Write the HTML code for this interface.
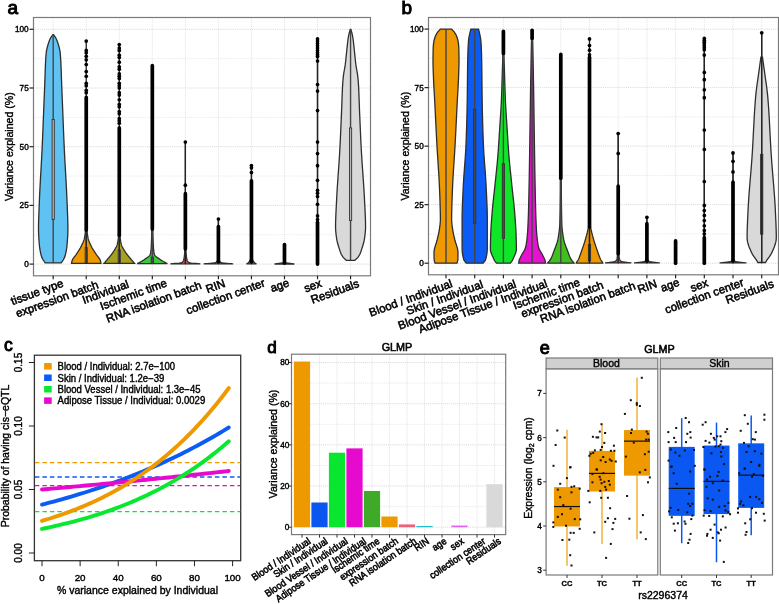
<!DOCTYPE html><html><head><meta charset="utf-8"><style>html,body{margin:0;padding:0;background:#fff;overflow:hidden}svg{display:block;will-change:transform}text{font-family:"Liberation Sans",sans-serif;fill:#000;stroke:#000;stroke-width:0.3px}.nb{stroke:none}.lab{stroke:#000;stroke-width:0.55px}.big{stroke:#000;stroke-width:1px}.m{stroke:#000;stroke-width:0.4px}</style></head><body>
<svg width="779" height="604" viewBox="0 0 779 604">
<rect width="779" height="604" fill="#fff"/>
<rect x="33.5" y="17.5" width="337" height="258.3" fill="#fff"/>
<line x1="33.5" x2="370.5" y1="234.75" y2="234.75" stroke="#e8e8e8" stroke-width="1" stroke-dasharray="1.1 1"/>
<line x1="33.5" x2="370.5" y1="176.05" y2="176.05" stroke="#e8e8e8" stroke-width="1" stroke-dasharray="1.1 1"/>
<line x1="33.5" x2="370.5" y1="117.35" y2="117.35" stroke="#e8e8e8" stroke-width="1" stroke-dasharray="1.1 1"/>
<line x1="33.5" x2="370.5" y1="58.65" y2="58.65" stroke="#e8e8e8" stroke-width="1" stroke-dasharray="1.1 1"/>
<line x1="33.5" x2="370.5" y1="264.1" y2="264.1" stroke="#d8d8d8" stroke-width="1" stroke-dasharray="1.1 1"/>
<line x1="33.5" x2="370.5" y1="205.4" y2="205.4" stroke="#d8d8d8" stroke-width="1" stroke-dasharray="1.1 1"/>
<line x1="33.5" x2="370.5" y1="146.7" y2="146.7" stroke="#d8d8d8" stroke-width="1" stroke-dasharray="1.1 1"/>
<line x1="33.5" x2="370.5" y1="88" y2="88" stroke="#d8d8d8" stroke-width="1" stroke-dasharray="1.1 1"/>
<line x1="33.5" x2="370.5" y1="29.3" y2="29.3" stroke="#d8d8d8" stroke-width="1" stroke-dasharray="1.1 1"/>
<line x1="53.2" x2="53.2" y1="17.5" y2="275.8" stroke="#e2e2e2" stroke-width="1" stroke-dasharray="1.1 1"/>
<line x1="86.24" x2="86.24" y1="17.5" y2="275.8" stroke="#e2e2e2" stroke-width="1" stroke-dasharray="1.1 1"/>
<line x1="119.28" x2="119.28" y1="17.5" y2="275.8" stroke="#e2e2e2" stroke-width="1" stroke-dasharray="1.1 1"/>
<line x1="152.32" x2="152.32" y1="17.5" y2="275.8" stroke="#e2e2e2" stroke-width="1" stroke-dasharray="1.1 1"/>
<line x1="185.36" x2="185.36" y1="17.5" y2="275.8" stroke="#e2e2e2" stroke-width="1" stroke-dasharray="1.1 1"/>
<line x1="218.4" x2="218.4" y1="17.5" y2="275.8" stroke="#e2e2e2" stroke-width="1" stroke-dasharray="1.1 1"/>
<line x1="251.44" x2="251.44" y1="17.5" y2="275.8" stroke="#e2e2e2" stroke-width="1" stroke-dasharray="1.1 1"/>
<line x1="284.48" x2="284.48" y1="17.5" y2="275.8" stroke="#e2e2e2" stroke-width="1" stroke-dasharray="1.1 1"/>
<line x1="317.52" x2="317.52" y1="17.5" y2="275.8" stroke="#e2e2e2" stroke-width="1" stroke-dasharray="1.1 1"/>
<line x1="350.56" x2="350.56" y1="17.5" y2="275.8" stroke="#e2e2e2" stroke-width="1" stroke-dasharray="1.1 1"/>
<path d="M61.2 262.93 L63.23 260.04 L64.67 257.15 L65.49 254.26 L66.14 251.37 L66.63 248.48 L66.97 245.59 L67.22 242.7 L67.45 239.81 L67.64 236.93 L67.79 234.04 L67.88 231.15 L67.9 228.26 L67.87 225.37 L67.82 222.48 L67.74 219.59 L67.64 216.7 L67.53 213.81 L67.42 210.93 L67.3 208.04 L67.19 205.15 L67.08 202.26 L66.96 199.37 L66.83 196.48 L66.7 193.59 L66.56 190.7 L66.41 187.81 L66.26 184.92 L66.1 182.04 L65.94 179.15 L65.78 176.26 L65.62 173.37 L65.45 170.48 L65.29 167.59 L65.13 164.7 L64.97 161.81 L64.81 158.92 L64.66 156.04 L64.51 153.15 L64.37 150.26 L64.23 147.37 L64.1 144.48 L63.97 141.59 L63.85 138.7 L63.73 135.81 L63.61 132.92 L63.49 130.04 L63.37 127.15 L63.26 124.26 L63.14 121.37 L63.03 118.48 L62.91 115.59 L62.8 112.7 L62.69 109.81 L62.58 106.92 L62.46 104.03 L62.35 101.15 L62.23 98.26 L62.11 95.37 L61.99 92.48 L61.87 89.59 L61.75 86.7 L61.64 83.81 L61.54 80.92 L61.44 78.03 L61.35 75.15 L61.26 72.26 L61.16 69.37 L61.04 66.48 L60.91 63.59 L60.76 60.7 L60.59 57.81 L60.38 54.92 L60.12 52.03 L59.58 49.15 L58.84 46.26 L58.02 43.37 L56.99 40.48 L55.59 37.59 L53.5 34.7 L52.9 34.7 L50.81 37.59 L49.41 40.48 L48.38 43.37 L47.56 46.26 L46.82 49.15 L46.28 52.03 L46.02 54.92 L45.81 57.81 L45.64 60.7 L45.49 63.59 L45.36 66.48 L45.24 69.37 L45.14 72.26 L45.05 75.15 L44.96 78.03 L44.86 80.92 L44.76 83.81 L44.65 86.7 L44.53 89.59 L44.41 92.48 L44.29 95.37 L44.17 98.26 L44.05 101.15 L43.94 104.03 L43.82 106.92 L43.71 109.81 L43.6 112.7 L43.49 115.59 L43.37 118.48 L43.26 121.37 L43.14 124.26 L43.03 127.15 L42.91 130.04 L42.79 132.92 L42.67 135.81 L42.55 138.7 L42.43 141.59 L42.3 144.48 L42.17 147.37 L42.03 150.26 L41.89 153.15 L41.74 156.04 L41.59 158.92 L41.43 161.81 L41.27 164.7 L41.11 167.59 L40.95 170.48 L40.78 173.37 L40.62 176.26 L40.46 179.15 L40.3 182.04 L40.14 184.92 L39.99 187.81 L39.84 190.7 L39.7 193.59 L39.57 196.48 L39.44 199.37 L39.32 202.26 L39.21 205.15 L39.1 208.04 L38.98 210.93 L38.87 213.81 L38.76 216.7 L38.66 219.59 L38.58 222.48 L38.53 225.37 L38.5 228.26 L38.52 231.15 L38.61 234.04 L38.76 236.93 L38.95 239.81 L39.18 242.7 L39.43 245.59 L39.77 248.48 L40.26 251.37 L40.91 254.26 L41.73 257.15 L43.17 260.04 L45.2 262.93Z" fill="#5fc2f3" stroke="#2e2e2e" stroke-width="1.3"/>
<line x1="53.2" x2="53.2" y1="262.93" y2="34.7" stroke="#444" stroke-width="1.4"/>
<rect x="52.1" y="119.46" width="2.2" height="100.02" fill="#b8b8b8" stroke="#333" stroke-width="0.9"/>
<path d="M100.94 263.4 L100.9 262.97 L100.83 262.55 L100.75 262.13 L100.65 261.71 L100.54 261.29 L100.42 260.86 L100.3 260.44 L100.14 260.02 L99.94 259.6 L99.71 259.18 L99.46 258.75 L99.18 258.33 L98.88 257.91 L98.57 257.49 L98.24 257.06 L97.92 256.64 L97.59 256.22 L97.26 255.8 L96.94 255.38 L96.63 254.95 L96.33 254.53 L96.06 254.11 L95.78 253.69 L95.51 253.27 L95.23 252.84 L94.95 252.42 L94.67 252 L94.39 251.58 L94.12 251.16 L93.84 250.73 L93.57 250.31 L93.3 249.89 L93.04 249.47 L92.79 249.05 L92.54 248.62 L92.3 248.2 L92.06 247.78 L91.84 247.36 L91.63 246.94 L91.42 246.51 L91.21 246.09 L91 245.67 L90.79 245.25 L90.59 244.83 L90.38 244.4 L90.18 243.98 L89.98 243.56 L89.79 243.14 L89.6 242.72 L89.41 242.29 L89.24 241.87 L89.07 241.45 L88.9 241.03 L88.75 240.61 L88.61 240.18 L88.47 239.76 L88.35 239.34 L88.23 238.92 L88.13 238.49 L88.05 238.07 L87.97 237.65 L87.89 237.23 L87.81 236.81 L87.73 236.38 L87.66 235.96 L87.58 235.54 L87.51 235.12 L87.45 234.7 L87.38 234.27 L87.32 233.85 L87.27 233.43 L87.22 233.01 L87.17 232.59 L87.13 232.16 L87.1 231.74 L87.08 231.32 L87.06 230.9 L87.04 230.48 L87.04 230.05 L85.44 230.05 L85.44 230.48 L85.42 230.9 L85.4 231.32 L85.38 231.74 L85.35 232.16 L85.31 232.59 L85.26 233.01 L85.21 233.43 L85.16 233.85 L85.1 234.27 L85.03 234.7 L84.97 235.12 L84.9 235.54 L84.82 235.96 L84.75 236.38 L84.67 236.81 L84.59 237.23 L84.51 237.65 L84.43 238.07 L84.35 238.49 L84.25 238.92 L84.13 239.34 L84.01 239.76 L83.87 240.18 L83.73 240.61 L83.58 241.03 L83.41 241.45 L83.24 241.87 L83.07 242.29 L82.88 242.72 L82.69 243.14 L82.5 243.56 L82.3 243.98 L82.1 244.4 L81.89 244.83 L81.69 245.25 L81.48 245.67 L81.27 246.09 L81.06 246.51 L80.85 246.94 L80.64 247.36 L80.42 247.78 L80.18 248.2 L79.94 248.62 L79.69 249.05 L79.44 249.47 L79.18 249.89 L78.91 250.31 L78.64 250.73 L78.36 251.16 L78.09 251.58 L77.81 252 L77.53 252.42 L77.25 252.84 L76.97 253.27 L76.7 253.69 L76.42 254.11 L76.15 254.53 L75.85 254.95 L75.54 255.38 L75.22 255.8 L74.89 256.22 L74.56 256.64 L74.24 257.06 L73.91 257.49 L73.6 257.91 L73.3 258.33 L73.02 258.75 L72.77 259.18 L72.54 259.6 L72.34 260.02 L72.18 260.44 L72.06 260.86 L71.94 261.29 L71.83 261.71 L71.73 262.13 L71.65 262.55 L71.58 262.97 L71.54 263.4Z" fill="#ee9900" stroke="#2e2e2e" stroke-width="1.3"/>
<line x1="86.24" x2="86.24" y1="264.1" y2="230.05" stroke="#444" stroke-width="1.4"/>
<rect x="85.14" y="247.66" width="2.2" height="15.26" fill="#bbb" stroke="#333" stroke-width="0.9"/>
<line x1="86.24" x2="86.24" y1="264.1" y2="41.04" stroke="#222" stroke-width="1.3"/>
<line x1="86.24" x2="86.24" y1="230.05" y2="97.39" stroke="#000" stroke-width="3.7" stroke-linecap="round"/>
<circle cx="86.24" cy="41.04" r="1.85" fill="#000"/>
<circle cx="86.24" cy="50.43" r="1.85" fill="#000"/>
<circle cx="86.24" cy="52.78" r="1.85" fill="#000"/>
<circle cx="86.24" cy="56.3" r="1.85" fill="#000"/>
<circle cx="86.24" cy="59.82" r="1.85" fill="#000"/>
<circle cx="86.24" cy="64.52" r="1.85" fill="#000"/>
<circle cx="86.24" cy="71.56" r="1.85" fill="#000"/>
<circle cx="86.24" cy="76.26" r="1.85" fill="#000"/>
<circle cx="86.24" cy="83.3" r="1.85" fill="#000"/>
<circle cx="86.24" cy="85.65" r="1.85" fill="#000"/>
<circle cx="86.24" cy="90.35" r="1.85" fill="#000"/>
<circle cx="86.24" cy="92.7" r="1.85" fill="#000"/>
<path d="M134.58 263.4 L134.27 263.04 L133.96 262.68 L133.65 262.33 L133.35 261.97 L133.04 261.61 L132.74 261.26 L132.43 260.9 L132.13 260.54 L131.83 260.19 L131.54 259.83 L131.24 259.47 L130.94 259.12 L130.64 258.76 L130.34 258.4 L130.03 258.05 L129.73 257.69 L129.42 257.33 L129.12 256.98 L128.82 256.62 L128.51 256.26 L128.22 255.91 L127.92 255.55 L127.63 255.19 L127.35 254.84 L127.07 254.48 L126.8 254.12 L126.53 253.77 L126.28 253.41 L126.03 253.05 L125.79 252.7 L125.57 252.34 L125.34 251.98 L125.12 251.63 L124.89 251.27 L124.67 250.91 L124.44 250.56 L124.22 250.2 L124 249.84 L123.78 249.49 L123.56 249.13 L123.35 248.77 L123.14 248.42 L122.94 248.06 L122.75 247.7 L122.56 247.35 L122.37 246.99 L122.2 246.63 L122.03 246.28 L121.87 245.92 L121.72 245.56 L121.59 245.21 L121.46 244.85 L121.34 244.49 L121.24 244.14 L121.15 243.78 L121.08 243.42 L121.01 243.07 L120.94 242.71 L120.87 242.35 L120.81 242 L120.74 241.64 L120.68 241.28 L120.62 240.93 L120.56 240.57 L120.51 240.21 L120.45 239.86 L120.4 239.5 L120.36 239.14 L120.31 238.79 L120.27 238.43 L120.23 238.07 L120.2 237.72 L120.17 237.36 L120.14 237 L120.12 236.65 L120.1 236.29 L120.09 235.93 L120.08 235.58 L120.08 235.22 L118.48 235.22 L118.48 235.58 L118.47 235.93 L118.46 236.29 L118.44 236.65 L118.42 237 L118.39 237.36 L118.36 237.72 L118.33 238.07 L118.29 238.43 L118.25 238.79 L118.2 239.14 L118.16 239.5 L118.11 239.86 L118.05 240.21 L118 240.57 L117.94 240.93 L117.88 241.28 L117.82 241.64 L117.75 242 L117.69 242.35 L117.62 242.71 L117.55 243.07 L117.48 243.42 L117.41 243.78 L117.32 244.14 L117.22 244.49 L117.1 244.85 L116.97 245.21 L116.84 245.56 L116.69 245.92 L116.53 246.28 L116.36 246.63 L116.19 246.99 L116 247.35 L115.81 247.7 L115.62 248.06 L115.42 248.42 L115.21 248.77 L115 249.13 L114.78 249.49 L114.56 249.84 L114.34 250.2 L114.12 250.56 L113.89 250.91 L113.67 251.27 L113.44 251.63 L113.22 251.98 L112.99 252.34 L112.77 252.7 L112.53 253.05 L112.28 253.41 L112.03 253.77 L111.76 254.12 L111.49 254.48 L111.21 254.84 L110.93 255.19 L110.64 255.55 L110.34 255.91 L110.05 256.26 L109.74 256.62 L109.44 256.98 L109.14 257.33 L108.83 257.69 L108.53 258.05 L108.22 258.4 L107.92 258.76 L107.62 259.12 L107.32 259.47 L107.02 259.83 L106.73 260.19 L106.43 260.54 L106.13 260.9 L105.82 261.26 L105.52 261.61 L105.21 261.97 L104.91 262.33 L104.6 262.68 L104.29 263.04 L103.98 263.4Z" fill="#a8a11c" stroke="#2e2e2e" stroke-width="1.3"/>
<line x1="119.28" x2="119.28" y1="264.1" y2="235.22" stroke="#444" stroke-width="1.4"/>
<rect x="118.18" y="250.01" width="2.2" height="12.91" fill="#bbb" stroke="#333" stroke-width="0.9"/>
<line x1="119.28" x2="119.28" y1="264.1" y2="44.56" stroke="#222" stroke-width="1.3"/>
<line x1="119.28" x2="119.28" y1="235.22" y2="127.92" stroke="#000" stroke-width="3.7" stroke-linecap="round"/>
<circle cx="119.28" cy="44.56" r="1.85" fill="#000"/>
<circle cx="119.28" cy="48.08" r="1.85" fill="#000"/>
<circle cx="119.28" cy="50.43" r="1.85" fill="#000"/>
<circle cx="119.28" cy="55.13" r="1.85" fill="#000"/>
<circle cx="119.28" cy="57.48" r="1.85" fill="#000"/>
<circle cx="119.28" cy="62.17" r="1.85" fill="#000"/>
<circle cx="119.28" cy="66.87" r="1.85" fill="#000"/>
<circle cx="119.28" cy="69.22" r="1.85" fill="#000"/>
<circle cx="119.28" cy="73.91" r="1.85" fill="#000"/>
<circle cx="119.28" cy="76.26" r="1.85" fill="#000"/>
<circle cx="119.28" cy="78.61" r="1.85" fill="#000"/>
<circle cx="119.28" cy="83.3" r="1.85" fill="#000"/>
<circle cx="119.28" cy="85.65" r="1.85" fill="#000"/>
<circle cx="119.28" cy="88" r="1.85" fill="#000"/>
<circle cx="119.28" cy="92.7" r="1.85" fill="#000"/>
<circle cx="119.28" cy="95.04" r="1.85" fill="#000"/>
<circle cx="119.28" cy="99.74" r="1.85" fill="#000"/>
<circle cx="119.28" cy="104.44" r="1.85" fill="#000"/>
<circle cx="119.28" cy="106.78" r="1.85" fill="#000"/>
<circle cx="119.28" cy="111.48" r="1.85" fill="#000"/>
<circle cx="119.28" cy="113.83" r="1.85" fill="#000"/>
<circle cx="119.28" cy="118.52" r="1.85" fill="#000"/>
<circle cx="119.28" cy="120.87" r="1.85" fill="#000"/>
<circle cx="119.28" cy="123.22" r="1.85" fill="#000"/>
<path d="M167.42 263.63 L166.55 263.19 L165.69 262.76 L164.86 262.32 L164.05 261.88 L163.27 261.45 L162.53 261.01 L161.81 260.57 L161.14 260.14 L160.5 259.7 L159.89 259.26 L159.25 258.82 L158.61 258.39 L157.98 257.95 L157.35 257.51 L156.76 257.08 L156.2 256.64 L155.7 256.2 L155.25 255.77 L154.87 255.33 L154.58 254.89 L154.38 254.46 L154.27 254.02 L154.18 253.58 L154.1 253.14 L154.02 252.71 L153.95 252.27 L153.88 251.83 L153.82 251.4 L153.76 250.96 L153.71 250.52 L153.66 250.09 L153.61 249.65 L153.57 249.21 L153.53 248.78 L153.5 248.34 L153.46 247.9 L153.43 247.46 L153.41 247.03 L153.38 246.59 L153.36 246.15 L153.34 245.72 L153.32 245.28 L153.3 244.84 L153.28 244.41 L153.26 243.97 L153.25 243.53 L153.23 243.1 L153.21 242.66 L153.19 242.22 L153.18 241.79 L153.16 241.35 L153.15 240.91 L153.13 240.47 L153.12 240.04 L153.1 239.6 L153.09 239.16 L153.08 238.73 L153.06 238.29 L153.05 237.85 L153.04 237.42 L153.03 236.98 L153.02 236.54 L153.01 236.11 L153 235.67 L152.99 235.23 L152.98 234.79 L152.97 234.36 L152.96 233.92 L152.95 233.48 L152.95 233.05 L152.94 232.61 L152.94 232.17 L152.93 231.74 L152.93 231.3 L152.93 230.86 L152.92 230.43 L152.92 229.99 L152.92 229.55 L152.92 229.11 L151.72 229.11 L151.72 229.55 L151.72 229.99 L151.72 230.43 L151.71 230.86 L151.71 231.3 L151.71 231.74 L151.7 232.17 L151.7 232.61 L151.69 233.05 L151.69 233.48 L151.68 233.92 L151.67 234.36 L151.66 234.79 L151.65 235.23 L151.64 235.67 L151.63 236.11 L151.62 236.54 L151.61 236.98 L151.6 237.42 L151.59 237.85 L151.58 238.29 L151.56 238.73 L151.55 239.16 L151.54 239.6 L151.52 240.04 L151.51 240.47 L151.49 240.91 L151.48 241.35 L151.46 241.79 L151.45 242.22 L151.43 242.66 L151.41 243.1 L151.39 243.53 L151.38 243.97 L151.36 244.41 L151.34 244.84 L151.32 245.28 L151.3 245.72 L151.28 246.15 L151.26 246.59 L151.23 247.03 L151.21 247.46 L151.18 247.9 L151.14 248.34 L151.11 248.78 L151.07 249.21 L151.03 249.65 L150.98 250.09 L150.93 250.52 L150.88 250.96 L150.82 251.4 L150.76 251.83 L150.69 252.27 L150.62 252.71 L150.54 253.14 L150.46 253.58 L150.37 254.02 L150.26 254.46 L150.06 254.89 L149.77 255.33 L149.39 255.77 L148.94 256.2 L148.44 256.64 L147.88 257.08 L147.29 257.51 L146.66 257.95 L146.03 258.39 L145.39 258.82 L144.75 259.26 L144.14 259.7 L143.5 260.14 L142.83 260.57 L142.11 261.01 L141.37 261.45 L140.59 261.88 L139.78 262.32 L138.95 262.76 L138.09 263.19 L137.22 263.63Z" fill="#3cc83c" stroke="#2e2e2e" stroke-width="1.3"/>
<line x1="152.32" x2="152.32" y1="264.1" y2="229.11" stroke="#444" stroke-width="1.4"/>
<rect x="151.22" y="257.06" width="2.2" height="5.87" fill="#4a4a4a" stroke="#333" stroke-width="0.9"/>
<line x1="152.32" x2="152.32" y1="229.11" y2="65.69" stroke="#000" stroke-width="3.7" stroke-linecap="round"/>
<path d="M200.36 263.87 L198.06 263.67 L195.75 263.48 L193.56 263.29 L191.68 263.1 L190.25 262.91 L189.43 262.72 L189.1 262.53 L188.81 262.34 L188.54 262.15 L188.3 261.96 L188.08 261.77 L187.88 261.58 L187.71 261.39 L187.55 261.2 L187.41 261.01 L187.29 260.82 L187.19 260.63 L187.1 260.44 L187.02 260.25 L186.96 260.06 L186.91 259.87 L186.87 259.68 L186.83 259.49 L186.8 259.3 L186.77 259.11 L186.74 258.92 L186.71 258.73 L186.68 258.54 L186.65 258.35 L186.62 258.16 L186.59 257.97 L186.56 257.78 L186.53 257.59 L186.51 257.4 L186.48 257.21 L186.46 257.02 L186.43 256.83 L186.41 256.64 L186.39 256.45 L186.37 256.26 L186.34 256.07 L186.32 255.88 L186.3 255.69 L186.28 255.5 L186.26 255.31 L186.25 255.12 L186.23 254.92 L186.21 254.73 L186.19 254.54 L186.18 254.35 L186.16 254.16 L186.15 253.97 L186.13 253.78 L186.12 253.59 L186.11 253.4 L186.1 253.21 L186.08 253.02 L186.07 252.83 L186.06 252.64 L186.05 252.45 L186.04 252.26 L186.03 252.07 L186.02 251.88 L186.02 251.69 L186.01 251.5 L186 251.31 L186 251.12 L185.99 250.93 L185.98 250.74 L185.98 250.55 L185.98 250.36 L185.97 250.17 L185.97 249.98 L185.97 249.79 L185.96 249.6 L185.96 249.41 L185.96 249.22 L185.96 249.03 L185.96 248.84 L184.76 248.84 L184.76 249.03 L184.76 249.22 L184.76 249.41 L184.76 249.6 L184.75 249.79 L184.75 249.98 L184.75 250.17 L184.74 250.36 L184.74 250.55 L184.74 250.74 L184.73 250.93 L184.72 251.12 L184.72 251.31 L184.71 251.5 L184.7 251.69 L184.7 251.88 L184.69 252.07 L184.68 252.26 L184.67 252.45 L184.66 252.64 L184.65 252.83 L184.64 253.02 L184.62 253.21 L184.61 253.4 L184.6 253.59 L184.59 253.78 L184.57 253.97 L184.56 254.16 L184.54 254.35 L184.53 254.54 L184.51 254.73 L184.49 254.92 L184.47 255.12 L184.46 255.31 L184.44 255.5 L184.42 255.69 L184.4 255.88 L184.38 256.07 L184.35 256.26 L184.33 256.45 L184.31 256.64 L184.29 256.83 L184.26 257.02 L184.24 257.21 L184.21 257.4 L184.19 257.59 L184.16 257.78 L184.13 257.97 L184.1 258.16 L184.07 258.35 L184.04 258.54 L184.01 258.73 L183.98 258.92 L183.95 259.11 L183.92 259.3 L183.89 259.49 L183.85 259.68 L183.81 259.87 L183.76 260.06 L183.7 260.25 L183.62 260.44 L183.53 260.63 L183.43 260.82 L183.31 261.01 L183.17 261.2 L183.01 261.39 L182.84 261.58 L182.64 261.77 L182.42 261.96 L182.18 262.15 L181.91 262.34 L181.62 262.53 L181.29 262.72 L180.47 262.91 L179.04 263.1 L177.16 263.29 L174.97 263.48 L172.66 263.67 L170.36 263.87Z" fill="#e05050" stroke="#2e2e2e" stroke-width="1.3"/>
<line x1="185.36" x2="185.36" y1="264.1" y2="142" stroke="#444" stroke-width="1.4"/>
<line x1="185.36" x2="185.36" y1="264.1" y2="142" stroke="#222" stroke-width="1.3"/>
<line x1="185.36" x2="185.36" y1="248.84" y2="193.66" stroke="#000" stroke-width="3.7" stroke-linecap="round"/>
<circle cx="185.36" cy="142" r="1.85" fill="#000"/>
<circle cx="185.36" cy="185.21" r="1.85" fill="#000"/>
<path d="M233.2 263.87 L232.45 263.81 L231.69 263.75 L230.93 263.7 L230.17 263.64 L229.43 263.58 L228.69 263.53 L227.96 263.47 L227.25 263.41 L226.57 263.36 L225.91 263.3 L225.27 263.24 L224.68 263.19 L224.11 263.13 L223.59 263.07 L223.11 263.02 L222.68 262.96 L222.3 262.91 L221.98 262.85 L221.71 262.79 L221.51 262.74 L221.38 262.68 L221.26 262.62 L221.16 262.57 L221.05 262.51 L220.95 262.45 L220.86 262.4 L220.77 262.34 L220.68 262.28 L220.6 262.23 L220.52 262.17 L220.44 262.11 L220.37 262.06 L220.3 262 L220.23 261.95 L220.17 261.89 L220.11 261.83 L220.05 261.78 L219.99 261.72 L219.94 261.66 L219.89 261.61 L219.84 261.55 L219.79 261.49 L219.75 261.44 L219.7 261.38 L219.66 261.32 L219.62 261.27 L219.58 261.21 L219.55 261.15 L219.51 261.1 L219.47 261.04 L219.44 260.99 L219.4 260.93 L219.37 260.87 L219.34 260.82 L219.3 260.76 L219.27 260.7 L219.24 260.65 L219.21 260.59 L219.17 260.53 L219.14 260.48 L219.11 260.42 L219.08 260.36 L219.05 260.31 L219.02 260.25 L218.99 260.19 L218.96 260.14 L218.94 260.08 L218.91 260.03 L218.89 259.97 L218.86 259.91 L218.84 259.86 L218.82 259.8 L218.8 259.74 L218.78 259.69 L218.76 259.63 L218.74 259.57 L218.73 259.52 L218.71 259.46 L218.7 259.4 L218.1 259.4 L218.09 259.46 L218.07 259.52 L218.06 259.57 L218.04 259.63 L218.02 259.69 L218 259.74 L217.98 259.8 L217.96 259.86 L217.94 259.91 L217.91 259.97 L217.89 260.03 L217.86 260.08 L217.84 260.14 L217.81 260.19 L217.78 260.25 L217.75 260.31 L217.72 260.36 L217.69 260.42 L217.66 260.48 L217.63 260.53 L217.59 260.59 L217.56 260.65 L217.53 260.7 L217.5 260.76 L217.46 260.82 L217.43 260.87 L217.4 260.93 L217.36 260.99 L217.33 261.04 L217.29 261.1 L217.25 261.15 L217.22 261.21 L217.18 261.27 L217.14 261.32 L217.1 261.38 L217.05 261.44 L217.01 261.49 L216.96 261.55 L216.91 261.61 L216.86 261.66 L216.81 261.72 L216.75 261.78 L216.69 261.83 L216.63 261.89 L216.57 261.95 L216.5 262 L216.43 262.06 L216.36 262.11 L216.28 262.17 L216.2 262.23 L216.12 262.28 L216.03 262.34 L215.94 262.4 L215.85 262.45 L215.75 262.51 L215.64 262.57 L215.54 262.62 L215.42 262.68 L215.29 262.74 L215.09 262.79 L214.82 262.85 L214.5 262.91 L214.12 262.96 L213.69 263.02 L213.21 263.07 L212.69 263.13 L212.12 263.19 L211.53 263.24 L210.89 263.3 L210.23 263.36 L209.55 263.41 L208.84 263.47 L208.11 263.53 L207.37 263.58 L206.63 263.64 L205.87 263.7 L205.11 263.75 L204.35 263.81 L203.6 263.87Z" fill="#888" stroke="#2e2e2e" stroke-width="1.3"/>
<line x1="218.4" x2="218.4" y1="264.1" y2="219.49" stroke="#444" stroke-width="1.4"/>
<line x1="218.4" x2="218.4" y1="264.1" y2="219.02" stroke="#222" stroke-width="1.3"/>
<line x1="218.4" x2="218.4" y1="261.75" y2="226.53" stroke="#000" stroke-width="3.7" stroke-linecap="round"/>
<circle cx="218.4" cy="219.02" r="1.85" fill="#000"/>
<path d="M256.44 263.87 L256.29 263.79 L256.15 263.72 L256 263.65 L255.86 263.58 L255.72 263.51 L255.58 263.44 L255.45 263.37 L255.32 263.29 L255.19 263.22 L255.07 263.15 L254.96 263.08 L254.85 263.01 L254.74 262.94 L254.65 262.87 L254.56 262.8 L254.47 262.72 L254.4 262.65 L254.33 262.58 L254.26 262.51 L254.19 262.44 L254.13 262.37 L254.06 262.3 L254 262.22 L253.94 262.15 L253.88 262.08 L253.83 262.01 L253.77 261.94 L253.72 261.87 L253.67 261.8 L253.62 261.73 L253.57 261.65 L253.52 261.58 L253.47 261.51 L253.43 261.44 L253.39 261.37 L253.34 261.3 L253.3 261.23 L253.26 261.15 L253.22 261.08 L253.18 261.01 L253.14 260.94 L253.1 260.87 L253.06 260.8 L253.02 260.73 L252.98 260.66 L252.94 260.58 L252.91 260.51 L252.87 260.44 L252.83 260.37 L252.79 260.3 L252.76 260.23 L252.72 260.16 L252.68 260.08 L252.65 260.01 L252.61 259.94 L252.58 259.87 L252.54 259.8 L252.51 259.73 L252.48 259.66 L252.45 259.59 L252.41 259.51 L252.38 259.44 L252.35 259.37 L252.32 259.3 L252.29 259.23 L252.26 259.16 L252.23 259.09 L252.2 259.01 L252.18 258.94 L252.15 258.87 L252.12 258.8 L252.1 258.73 L252.07 258.66 L252.05 258.59 L252.03 258.52 L252 258.44 L251.98 258.37 L251.96 258.3 L251.94 258.23 L250.94 258.23 L250.92 258.3 L250.9 258.37 L250.88 258.44 L250.85 258.52 L250.83 258.59 L250.81 258.66 L250.78 258.73 L250.76 258.8 L250.73 258.87 L250.7 258.94 L250.68 259.01 L250.65 259.09 L250.62 259.16 L250.59 259.23 L250.56 259.3 L250.53 259.37 L250.5 259.44 L250.47 259.51 L250.43 259.59 L250.4 259.66 L250.37 259.73 L250.34 259.8 L250.3 259.87 L250.27 259.94 L250.23 260.01 L250.2 260.08 L250.16 260.16 L250.12 260.23 L250.09 260.3 L250.05 260.37 L250.01 260.44 L249.97 260.51 L249.94 260.58 L249.9 260.66 L249.86 260.73 L249.82 260.8 L249.78 260.87 L249.74 260.94 L249.7 261.01 L249.66 261.08 L249.62 261.15 L249.58 261.23 L249.54 261.3 L249.49 261.37 L249.45 261.44 L249.41 261.51 L249.36 261.58 L249.31 261.65 L249.26 261.73 L249.21 261.8 L249.16 261.87 L249.11 261.94 L249.05 262.01 L249 262.08 L248.94 262.15 L248.88 262.22 L248.82 262.3 L248.75 262.37 L248.69 262.44 L248.62 262.51 L248.55 262.58 L248.48 262.65 L248.41 262.72 L248.32 262.8 L248.23 262.87 L248.14 262.94 L248.03 263.01 L247.92 263.08 L247.81 263.15 L247.69 263.22 L247.56 263.29 L247.43 263.37 L247.3 263.44 L247.16 263.51 L247.02 263.58 L246.88 263.65 L246.73 263.72 L246.59 263.79 L246.44 263.87Z" fill="#888" stroke="#2e2e2e" stroke-width="1.3"/>
<line x1="251.44" x2="251.44" y1="264.1" y2="165.48" stroke="#444" stroke-width="1.4"/>
<line x1="251.44" x2="251.44" y1="264.1" y2="165.48" stroke="#222" stroke-width="1.3"/>
<line x1="251.44" x2="251.44" y1="261.75" y2="180.75" stroke="#000" stroke-width="3.7" stroke-linecap="round"/>
<circle cx="251.44" cy="165.48" r="1.85" fill="#000"/>
<circle cx="251.44" cy="167.83" r="1.85" fill="#000"/>
<circle cx="251.44" cy="172.53" r="1.85" fill="#000"/>
<path d="M294.48 263.98 L294.36 263.97 L294.23 263.95 L294.11 263.93 L293.99 263.92 L293.87 263.9 L293.74 263.88 L293.62 263.87 L293.5 263.85 L293.37 263.84 L293.25 263.82 L293.13 263.8 L293.01 263.79 L292.88 263.77 L292.76 263.75 L292.64 263.74 L292.52 263.72 L292.39 263.7 L292.27 263.69 L292.15 263.67 L292.02 263.66 L291.9 263.64 L291.78 263.62 L291.66 263.61 L291.53 263.59 L291.41 263.57 L291.29 263.56 L291.16 263.54 L291.04 263.52 L290.92 263.51 L290.8 263.49 L290.67 263.48 L290.55 263.46 L290.43 263.44 L290.31 263.43 L290.18 263.41 L290.06 263.39 L289.94 263.38 L289.81 263.36 L289.69 263.35 L289.57 263.33 L289.45 263.31 L289.32 263.3 L289.2 263.28 L289.08 263.26 L288.95 263.25 L288.83 263.23 L288.71 263.21 L288.59 263.2 L288.46 263.18 L288.34 263.17 L288.22 263.15 L288.1 263.13 L287.97 263.12 L287.85 263.1 L287.73 263.08 L287.6 263.07 L287.48 263.05 L287.36 263.03 L287.24 263.02 L287.11 263 L286.99 262.99 L286.87 262.97 L286.74 262.95 L286.62 262.94 L286.5 262.92 L286.38 262.9 L286.25 262.89 L286.13 262.87 L286.01 262.85 L285.89 262.84 L285.76 262.82 L285.64 262.81 L285.52 262.79 L285.39 262.77 L285.27 262.76 L285.15 262.74 L285.03 262.72 L284.9 262.71 L284.78 262.69 L284.18 262.69 L284.06 262.71 L283.93 262.72 L283.81 262.74 L283.69 262.76 L283.57 262.77 L283.44 262.79 L283.32 262.81 L283.2 262.82 L283.07 262.84 L282.95 262.85 L282.83 262.87 L282.71 262.89 L282.58 262.9 L282.46 262.92 L282.34 262.94 L282.22 262.95 L282.09 262.97 L281.97 262.99 L281.85 263 L281.72 263.02 L281.6 263.03 L281.48 263.05 L281.36 263.07 L281.23 263.08 L281.11 263.1 L280.99 263.12 L280.86 263.13 L280.74 263.15 L280.62 263.17 L280.5 263.18 L280.37 263.2 L280.25 263.21 L280.13 263.23 L280.01 263.25 L279.88 263.26 L279.76 263.28 L279.64 263.3 L279.51 263.31 L279.39 263.33 L279.27 263.35 L279.15 263.36 L279.02 263.38 L278.9 263.39 L278.78 263.41 L278.65 263.43 L278.53 263.44 L278.41 263.46 L278.29 263.48 L278.16 263.49 L278.04 263.51 L277.92 263.52 L277.8 263.54 L277.67 263.56 L277.55 263.57 L277.43 263.59 L277.3 263.61 L277.18 263.62 L277.06 263.64 L276.94 263.66 L276.81 263.67 L276.69 263.69 L276.57 263.7 L276.44 263.72 L276.32 263.74 L276.2 263.75 L276.08 263.77 L275.95 263.79 L275.83 263.8 L275.71 263.82 L275.59 263.84 L275.46 263.85 L275.34 263.87 L275.22 263.88 L275.09 263.9 L274.97 263.92 L274.85 263.93 L274.73 263.95 L274.6 263.97 L274.48 263.98Z" fill="#888" stroke="#2e2e2e" stroke-width="1.3"/>
<line x1="284.48" x2="284.48" y1="262.93" y2="244.61" stroke="#000" stroke-width="3.7" stroke-linecap="round"/>
<line x1="317.52" x2="317.52" y1="264.1" y2="38.69" stroke="#444" stroke-width="1.4"/>
<line x1="317.52" x2="317.52" y1="264.1" y2="38.93" stroke="#222" stroke-width="1.3"/>
<line x1="317.52" x2="317.52" y1="264.1" y2="222.31" stroke="#000" stroke-width="3.7" stroke-linecap="round"/>
<circle cx="317.52" cy="38.93" r="1.85" fill="#000"/>
<circle cx="317.52" cy="41.04" r="1.85" fill="#000"/>
<circle cx="317.52" cy="43.39" r="1.85" fill="#000"/>
<circle cx="317.52" cy="45.74" r="1.85" fill="#000"/>
<circle cx="317.52" cy="48.08" r="1.85" fill="#000"/>
<circle cx="317.52" cy="50.43" r="1.85" fill="#000"/>
<circle cx="317.52" cy="52.78" r="1.85" fill="#000"/>
<circle cx="317.52" cy="54.66" r="1.85" fill="#000"/>
<circle cx="317.52" cy="56.54" r="1.85" fill="#000"/>
<circle cx="317.52" cy="61" r="1.85" fill="#000"/>
<circle cx="317.52" cy="84.48" r="1.85" fill="#000"/>
<circle cx="317.52" cy="91.05" r="1.85" fill="#000"/>
<circle cx="317.52" cy="110.54" r="1.85" fill="#000"/>
<circle cx="317.52" cy="142" r="1.85" fill="#000"/>
<circle cx="317.52" cy="153.51" r="1.85" fill="#000"/>
<circle cx="317.52" cy="165.72" r="1.85" fill="#000"/>
<circle cx="317.52" cy="180.28" r="1.85" fill="#000"/>
<circle cx="317.52" cy="190.37" r="1.85" fill="#000"/>
<circle cx="317.52" cy="193.19" r="1.85" fill="#000"/>
<circle cx="317.52" cy="196.48" r="1.85" fill="#000"/>
<circle cx="317.52" cy="204.23" r="1.85" fill="#000"/>
<circle cx="317.52" cy="215.97" r="1.85" fill="#000"/>
<circle cx="317.52" cy="219.49" r="1.85" fill="#000"/>
<path d="M354.86 260.34 L357.93 257.42 L359.78 254.49 L360.94 251.57 L361.87 248.64 L362.78 245.72 L363.63 242.8 L364.3 239.87 L364.74 236.95 L365.1 234.02 L365.39 231.1 L365.54 228.17 L365.55 225.25 L365.51 222.32 L365.43 219.4 L365.32 216.47 L365.2 213.55 L365.06 210.63 L364.91 207.7 L364.76 204.78 L364.61 201.85 L364.47 198.93 L364.32 196 L364.16 193.08 L363.98 190.15 L363.8 187.23 L363.61 184.3 L363.41 181.38 L363.2 178.45 L363 175.53 L362.79 172.61 L362.58 169.68 L362.37 166.76 L362.17 163.83 L361.97 160.91 L361.78 157.98 L361.6 155.06 L361.43 152.13 L361.27 149.21 L361.12 146.28 L360.97 143.36 L360.83 140.43 L360.69 137.51 L360.56 134.59 L360.43 131.66 L360.3 128.74 L360.17 125.81 L360.04 122.89 L359.92 119.96 L359.8 117.04 L359.67 114.11 L359.55 111.19 L359.43 108.26 L359.32 105.34 L359.22 102.41 L359.12 99.49 L359.01 96.57 L358.9 93.64 L358.78 90.72 L358.64 87.79 L358.48 84.87 L358.29 81.94 L358.04 79.02 L357.74 76.09 L357.33 73.17 L356.81 70.24 L356.29 67.32 L355.84 64.4 L355.49 61.47 L355.18 58.55 L354.88 55.62 L354.58 52.7 L354.26 49.77 L353.96 46.85 L353.66 43.92 L353.32 41 L352.92 38.07 L352.4 35.15 L351.68 32.22 L350.86 29.3 L350.26 29.3 L349.44 32.22 L348.72 35.15 L348.2 38.07 L347.8 41 L347.46 43.92 L347.16 46.85 L346.86 49.77 L346.54 52.7 L346.24 55.62 L345.94 58.55 L345.63 61.47 L345.28 64.4 L344.83 67.32 L344.31 70.24 L343.79 73.17 L343.38 76.09 L343.08 79.02 L342.83 81.94 L342.64 84.87 L342.48 87.79 L342.34 90.72 L342.22 93.64 L342.11 96.57 L342 99.49 L341.9 102.41 L341.8 105.34 L341.69 108.26 L341.57 111.19 L341.45 114.11 L341.32 117.04 L341.2 119.96 L341.08 122.89 L340.95 125.81 L340.82 128.74 L340.69 131.66 L340.56 134.59 L340.43 137.51 L340.29 140.43 L340.15 143.36 L340 146.28 L339.85 149.21 L339.69 152.13 L339.52 155.06 L339.34 157.98 L339.15 160.91 L338.95 163.83 L338.75 166.76 L338.54 169.68 L338.33 172.61 L338.12 175.53 L337.92 178.45 L337.71 181.38 L337.51 184.3 L337.32 187.23 L337.14 190.15 L336.96 193.08 L336.8 196 L336.65 198.93 L336.51 201.85 L336.36 204.78 L336.21 207.7 L336.06 210.63 L335.92 213.55 L335.8 216.47 L335.69 219.4 L335.61 222.32 L335.57 225.25 L335.58 228.17 L335.73 231.1 L336.02 234.02 L336.38 236.95 L336.82 239.87 L337.49 242.8 L338.34 245.72 L339.25 248.64 L340.18 251.57 L341.34 254.49 L343.19 257.42 L346.26 260.34Z" fill="#d9d9d9" stroke="#2e2e2e" stroke-width="1.3"/>
<line x1="350.56" x2="350.56" y1="260.34" y2="29.3" stroke="#444" stroke-width="1.4"/>
<rect x="349.46" y="127.92" width="2.2" height="92.51" fill="#b8b8b8" stroke="#333" stroke-width="0.9"/>
<rect x="33.5" y="17.5" width="337" height="258.3" fill="none" stroke="#7a7a7a" stroke-width="1.2"/>
<line x1="29.5" x2="33.5" y1="264.1" y2="264.1" stroke="#222" stroke-width="1.2"/>
<text x="28.7" y="267" font-size="8.2" text-anchor="end" class="m">0</text>
<line x1="29.5" x2="33.5" y1="205.4" y2="205.4" stroke="#222" stroke-width="1.2"/>
<text x="28.7" y="208.3" font-size="8.2" text-anchor="end" class="m">25</text>
<line x1="29.5" x2="33.5" y1="146.7" y2="146.7" stroke="#222" stroke-width="1.2"/>
<text x="28.7" y="149.6" font-size="8.2" text-anchor="end" class="m">50</text>
<line x1="29.5" x2="33.5" y1="88" y2="88" stroke="#222" stroke-width="1.2"/>
<text x="28.7" y="90.9" font-size="8.2" text-anchor="end" class="m">75</text>
<line x1="29.5" x2="33.5" y1="29.3" y2="29.3" stroke="#222" stroke-width="1.2"/>
<text x="28.7" y="32.2" font-size="8.2" text-anchor="end" class="m">100</text>
<line x1="53.2" x2="53.2" y1="275.8" y2="279.3" stroke="#222" stroke-width="1.2"/>
<line x1="86.24" x2="86.24" y1="275.8" y2="279.3" stroke="#222" stroke-width="1.2"/>
<line x1="119.28" x2="119.28" y1="275.8" y2="279.3" stroke="#222" stroke-width="1.2"/>
<line x1="152.32" x2="152.32" y1="275.8" y2="279.3" stroke="#222" stroke-width="1.2"/>
<line x1="185.36" x2="185.36" y1="275.8" y2="279.3" stroke="#222" stroke-width="1.2"/>
<line x1="218.4" x2="218.4" y1="275.8" y2="279.3" stroke="#222" stroke-width="1.2"/>
<line x1="251.44" x2="251.44" y1="275.8" y2="279.3" stroke="#222" stroke-width="1.2"/>
<line x1="284.48" x2="284.48" y1="275.8" y2="279.3" stroke="#222" stroke-width="1.2"/>
<line x1="317.52" x2="317.52" y1="275.8" y2="279.3" stroke="#222" stroke-width="1.2"/>
<line x1="350.56" x2="350.56" y1="275.8" y2="279.3" stroke="#222" stroke-width="1.2"/>
<text x="64.2" y="286.4" font-size="11.5" text-anchor="end" transform="rotate(-20 64.2 286.4)" class="lab">tissue type</text>
<text x="99.24" y="287.8" font-size="11.5" text-anchor="end" transform="rotate(-20 99.24 287.8)" class="lab">expression batch</text>
<text x="129.68" y="287.3" font-size="11.5" text-anchor="end" transform="rotate(-20 129.68 287.3)" class="lab">Individual</text>
<text x="167.82" y="286.1" font-size="11.5" text-anchor="end" transform="rotate(-20 167.82 286.1)" class="lab">Ischemic time</text>
<text x="202.16" y="288.3" font-size="11.5" text-anchor="end" transform="rotate(-20 202.16 288.3)" class="lab">RNA isolation batch</text>
<text x="226.2" y="286.4" font-size="11.5" text-anchor="end" transform="rotate(-20 226.2 286.4)" class="lab">RIN</text>
<text x="265.94" y="286" font-size="11.5" text-anchor="end" transform="rotate(-20 265.94 286)" class="lab">collection center</text>
<text x="289.98" y="285.8" font-size="11.5" text-anchor="end" transform="rotate(-20 289.98 285.8)" class="lab">age</text>
<text x="322.52" y="286.3" font-size="11.5" text-anchor="end" transform="rotate(-20 322.52 286.3)" class="lab">sex</text>
<text x="359.86" y="286.6" font-size="11.5" text-anchor="end" transform="rotate(-20 359.86 286.6)" class="lab">Residuals</text>
<text x="12.6" y="146.65" font-size="10.6" text-anchor="middle" class="m" transform="rotate(-90 12.6 146.65)">Variance explained (%)</text>
<text x="7.6" y="14.2" font-size="19" class="big">a</text>
<rect x="428.5" y="17.5" width="350" height="257.3" fill="#fff"/>
<line x1="428.5" x2="778.5" y1="233.94" y2="233.94" stroke="#e8e8e8" stroke-width="1" stroke-dasharray="1.1 1"/>
<line x1="428.5" x2="778.5" y1="175.41" y2="175.41" stroke="#e8e8e8" stroke-width="1" stroke-dasharray="1.1 1"/>
<line x1="428.5" x2="778.5" y1="116.89" y2="116.89" stroke="#e8e8e8" stroke-width="1" stroke-dasharray="1.1 1"/>
<line x1="428.5" x2="778.5" y1="58.36" y2="58.36" stroke="#e8e8e8" stroke-width="1" stroke-dasharray="1.1 1"/>
<line x1="428.5" x2="778.5" y1="263.2" y2="263.2" stroke="#d8d8d8" stroke-width="1" stroke-dasharray="1.1 1"/>
<line x1="428.5" x2="778.5" y1="204.67" y2="204.67" stroke="#d8d8d8" stroke-width="1" stroke-dasharray="1.1 1"/>
<line x1="428.5" x2="778.5" y1="146.15" y2="146.15" stroke="#d8d8d8" stroke-width="1" stroke-dasharray="1.1 1"/>
<line x1="428.5" x2="778.5" y1="87.62" y2="87.62" stroke="#d8d8d8" stroke-width="1" stroke-dasharray="1.1 1"/>
<line x1="428.5" x2="778.5" y1="29.1" y2="29.1" stroke="#d8d8d8" stroke-width="1" stroke-dasharray="1.1 1"/>
<line x1="446" x2="446" y1="17.5" y2="274.8" stroke="#e2e2e2" stroke-width="1" stroke-dasharray="1.1 1"/>
<line x1="474.7" x2="474.7" y1="17.5" y2="274.8" stroke="#e2e2e2" stroke-width="1" stroke-dasharray="1.1 1"/>
<line x1="503.4" x2="503.4" y1="17.5" y2="274.8" stroke="#e2e2e2" stroke-width="1" stroke-dasharray="1.1 1"/>
<line x1="532.1" x2="532.1" y1="17.5" y2="274.8" stroke="#e2e2e2" stroke-width="1" stroke-dasharray="1.1 1"/>
<line x1="560.8" x2="560.8" y1="17.5" y2="274.8" stroke="#e2e2e2" stroke-width="1" stroke-dasharray="1.1 1"/>
<line x1="589.5" x2="589.5" y1="17.5" y2="274.8" stroke="#e2e2e2" stroke-width="1" stroke-dasharray="1.1 1"/>
<line x1="618.2" x2="618.2" y1="17.5" y2="274.8" stroke="#e2e2e2" stroke-width="1" stroke-dasharray="1.1 1"/>
<line x1="646.9" x2="646.9" y1="17.5" y2="274.8" stroke="#e2e2e2" stroke-width="1" stroke-dasharray="1.1 1"/>
<line x1="675.6" x2="675.6" y1="17.5" y2="274.8" stroke="#e2e2e2" stroke-width="1" stroke-dasharray="1.1 1"/>
<line x1="704.3" x2="704.3" y1="17.5" y2="274.8" stroke="#e2e2e2" stroke-width="1" stroke-dasharray="1.1 1"/>
<line x1="733" x2="733" y1="17.5" y2="274.8" stroke="#e2e2e2" stroke-width="1" stroke-dasharray="1.1 1"/>
<line x1="761.7" x2="761.7" y1="17.5" y2="274.8" stroke="#e2e2e2" stroke-width="1" stroke-dasharray="1.1 1"/>
<path d="M457 263.2 L457.82 260.24 L457.94 257.27 L457.99 254.31 L457.95 251.35 L457.43 248.38 L456.55 245.42 L455.58 242.46 L454.78 239.49 L454.06 236.53 L453.37 233.57 L452.83 230.6 L452.39 227.64 L451.98 224.68 L451.69 221.71 L451.6 218.75 L451.63 215.79 L451.68 212.82 L451.76 209.86 L451.84 206.9 L451.92 203.93 L452.01 200.97 L452.11 198.01 L452.22 195.04 L452.34 192.08 L452.46 189.12 L452.59 186.15 L452.73 183.19 L452.88 180.23 L453.05 177.26 L453.22 174.3 L453.4 171.34 L453.59 168.37 L453.79 165.41 L453.98 162.45 L454.18 159.48 L454.37 156.52 L454.56 153.56 L454.75 150.59 L454.92 147.63 L455.09 144.67 L455.25 141.71 L455.41 138.74 L455.56 135.78 L455.71 132.82 L455.86 129.85 L456.01 126.89 L456.16 123.93 L456.3 120.96 L456.45 118 L456.59 115.04 L456.74 112.07 L456.88 109.11 L457.03 106.15 L457.18 103.18 L457.34 100.22 L457.5 97.26 L457.67 94.29 L457.84 91.33 L458.01 88.37 L458.17 85.4 L458.32 82.44 L458.46 79.48 L458.58 76.51 L458.69 73.55 L458.8 70.59 L458.9 67.62 L458.97 64.66 L459 61.7 L458.99 58.73 L458.96 55.77 L458.92 52.81 L458.85 49.84 L458.76 46.88 L458.48 43.92 L458.03 40.95 L457.29 37.99 L456.11 35.03 L454.37 32.06 L451.6 29.1 L440.4 29.1 L437.63 32.06 L435.89 35.03 L434.71 37.99 L433.97 40.95 L433.52 43.92 L433.24 46.88 L433.15 49.84 L433.08 52.81 L433.04 55.77 L433.01 58.73 L433 61.7 L433.03 64.66 L433.1 67.62 L433.2 70.59 L433.31 73.55 L433.42 76.51 L433.54 79.48 L433.68 82.44 L433.83 85.4 L433.99 88.37 L434.16 91.33 L434.33 94.29 L434.5 97.26 L434.66 100.22 L434.82 103.18 L434.97 106.15 L435.12 109.11 L435.26 112.07 L435.41 115.04 L435.55 118 L435.7 120.96 L435.84 123.93 L435.99 126.89 L436.14 129.85 L436.29 132.82 L436.44 135.78 L436.59 138.74 L436.75 141.71 L436.91 144.67 L437.08 147.63 L437.25 150.59 L437.44 153.56 L437.63 156.52 L437.82 159.48 L438.02 162.45 L438.21 165.41 L438.41 168.37 L438.6 171.34 L438.78 174.3 L438.95 177.26 L439.12 180.23 L439.27 183.19 L439.41 186.15 L439.54 189.12 L439.66 192.08 L439.78 195.04 L439.89 198.01 L439.99 200.97 L440.08 203.93 L440.16 206.9 L440.24 209.86 L440.32 212.82 L440.37 215.79 L440.4 218.75 L440.31 221.71 L440.02 224.68 L439.61 227.64 L439.17 230.6 L438.63 233.57 L437.94 236.53 L437.22 239.49 L436.42 242.46 L435.45 245.42 L434.57 248.38 L434.05 251.35 L434.01 254.31 L434.06 257.27 L434.18 260.24 L435 263.2Z" fill="#ee9900" stroke="#2e2e2e" stroke-width="1.3"/>
<line x1="446" x2="446" y1="263.2" y2="29.1" stroke="#444" stroke-width="1.4"/>
<path d="M483.2 263.2 L485.42 260.24 L486.22 257.27 L486.81 254.31 L487.17 251.35 L487.3 248.38 L487.3 245.42 L487.3 242.46 L487.3 239.49 L487.3 236.53 L487.3 233.57 L487.3 230.6 L487.3 227.64 L487.3 224.68 L487.3 221.71 L487.3 218.75 L487.28 215.79 L487.23 212.82 L487.16 209.86 L487.06 206.9 L486.95 203.93 L486.82 200.97 L486.68 198.01 L486.54 195.04 L486.4 192.08 L486.25 189.12 L486.11 186.15 L485.96 183.19 L485.79 180.23 L485.6 177.26 L485.4 174.3 L485.18 171.34 L484.96 168.37 L484.73 165.41 L484.51 162.45 L484.29 159.48 L484.08 156.52 L483.88 153.56 L483.7 150.59 L483.54 147.63 L483.41 144.67 L483.29 141.71 L483.18 138.74 L483.07 135.78 L482.97 132.82 L482.87 129.85 L482.78 126.89 L482.69 123.93 L482.6 120.96 L482.52 118 L482.45 115.04 L482.38 112.07 L482.32 109.11 L482.26 106.15 L482.21 103.18 L482.16 100.22 L482.12 97.26 L482.08 94.29 L482.05 91.33 L482.02 88.37 L481.99 85.4 L481.97 82.44 L481.94 79.48 L481.91 76.51 L481.88 73.55 L481.84 70.59 L481.8 67.62 L481.76 64.66 L481.71 61.7 L481.64 58.73 L481.57 55.77 L481.49 52.81 L481.38 49.84 L481.26 46.88 L481.1 43.92 L480.91 40.95 L480.55 37.99 L479.96 35.03 L479.31 32.06 L478.5 29.1 L470.9 29.1 L470.09 32.06 L469.44 35.03 L468.85 37.99 L468.49 40.95 L468.3 43.92 L468.14 46.88 L468.02 49.84 L467.91 52.81 L467.83 55.77 L467.76 58.73 L467.69 61.7 L467.64 64.66 L467.6 67.62 L467.56 70.59 L467.52 73.55 L467.49 76.51 L467.46 79.48 L467.43 82.44 L467.41 85.4 L467.38 88.37 L467.35 91.33 L467.32 94.29 L467.28 97.26 L467.24 100.22 L467.19 103.18 L467.14 106.15 L467.08 109.11 L467.02 112.07 L466.95 115.04 L466.88 118 L466.8 120.96 L466.71 123.93 L466.62 126.89 L466.53 129.85 L466.43 132.82 L466.33 135.78 L466.22 138.74 L466.11 141.71 L465.99 144.67 L465.86 147.63 L465.7 150.59 L465.52 153.56 L465.32 156.52 L465.11 159.48 L464.89 162.45 L464.67 165.41 L464.44 168.37 L464.22 171.34 L464 174.3 L463.8 177.26 L463.61 180.23 L463.44 183.19 L463.29 186.15 L463.15 189.12 L463 192.08 L462.86 195.04 L462.72 198.01 L462.58 200.97 L462.45 203.93 L462.34 206.9 L462.24 209.86 L462.17 212.82 L462.12 215.79 L462.1 218.75 L462.1 221.71 L462.1 224.68 L462.1 227.64 L462.1 230.6 L462.1 233.57 L462.1 236.53 L462.1 239.49 L462.1 242.46 L462.1 245.42 L462.1 248.38 L462.23 251.35 L462.59 254.31 L463.18 257.27 L463.98 260.24 L466.2 263.2Z" fill="#0b5cf4" stroke="#2e2e2e" stroke-width="1.3"/>
<line x1="474.7" x2="474.7" y1="263.2" y2="29.1" stroke="#444" stroke-width="1.4"/>
<rect x="473.6" y="109.16" width="2.2" height="114.24" fill="#4a4a4a" stroke="#333" stroke-width="0.9"/>
<path d="M510.4 263.2 L512.39 260.54 L513.47 257.89 L514.7 255.23 L515.83 252.58 L516.39 249.92 L516.39 247.27 L516.35 244.61 L516.29 241.96 L516.22 239.3 L516.14 236.65 L516.06 233.99 L515.95 231.34 L515.81 228.68 L515.66 226.03 L515.48 223.37 L515.29 220.72 L515.1 218.06 L514.9 215.41 L514.69 212.75 L514.47 210.1 L514.23 207.44 L513.97 204.79 L513.69 202.13 L513.41 199.48 L513.11 196.82 L512.82 194.17 L512.52 191.51 L512.23 188.86 L511.95 186.2 L511.67 183.55 L511.4 180.89 L511.12 178.24 L510.84 175.58 L510.56 172.93 L510.28 170.27 L510.01 167.62 L509.74 164.96 L509.49 162.31 L509.25 159.65 L509.03 157 L508.82 154.34 L508.62 151.69 L508.43 149.03 L508.25 146.38 L508.07 143.72 L507.9 141.06 L507.73 138.41 L507.56 135.75 L507.4 133.1 L507.23 130.44 L507.06 127.79 L506.89 125.13 L506.72 122.48 L506.54 119.82 L506.36 117.17 L506.19 114.51 L506.02 111.86 L505.86 109.2 L505.71 106.55 L505.57 103.89 L505.44 101.24 L505.33 98.58 L505.23 95.93 L505.14 93.27 L505.05 90.62 L504.96 87.96 L504.88 85.31 L504.81 82.65 L504.73 80 L504.64 77.34 L504.56 74.69 L504.48 72.03 L504.39 69.38 L504.31 66.72 L504.23 64.07 L504.14 61.41 L504.06 58.76 L503.98 56.1 L503.9 53.45 L502.9 53.45 L502.82 56.1 L502.74 58.76 L502.66 61.41 L502.57 64.07 L502.49 66.72 L502.41 69.38 L502.32 72.03 L502.24 74.69 L502.16 77.34 L502.07 80 L501.99 82.65 L501.92 85.31 L501.84 87.96 L501.75 90.62 L501.66 93.27 L501.57 95.93 L501.47 98.58 L501.36 101.24 L501.23 103.89 L501.09 106.55 L500.94 109.2 L500.78 111.86 L500.61 114.51 L500.44 117.17 L500.26 119.82 L500.08 122.48 L499.91 125.13 L499.74 127.79 L499.57 130.44 L499.4 133.1 L499.24 135.75 L499.07 138.41 L498.9 141.06 L498.73 143.72 L498.55 146.38 L498.37 149.03 L498.18 151.69 L497.98 154.34 L497.77 157 L497.55 159.65 L497.31 162.31 L497.06 164.96 L496.79 167.62 L496.52 170.27 L496.24 172.93 L495.96 175.58 L495.68 178.24 L495.4 180.89 L495.13 183.55 L494.85 186.2 L494.57 188.86 L494.28 191.51 L493.98 194.17 L493.69 196.82 L493.39 199.48 L493.11 202.13 L492.83 204.79 L492.57 207.44 L492.33 210.1 L492.11 212.75 L491.9 215.41 L491.7 218.06 L491.51 220.72 L491.32 223.37 L491.14 226.03 L490.99 228.68 L490.85 231.34 L490.74 233.99 L490.66 236.65 L490.58 239.3 L490.51 241.96 L490.45 244.61 L490.41 247.27 L490.41 249.92 L490.97 252.58 L492.1 255.23 L493.33 257.89 L494.41 260.54 L496.4 263.2Z" fill="#10e628" stroke="#2e2e2e" stroke-width="1.3"/>
<line x1="503.4" x2="503.4" y1="263.2" y2="31.44" stroke="#444" stroke-width="1.4"/>
<rect x="502.3" y="163.71" width="2.2" height="74.68" fill="#4a4a4a" stroke="#333" stroke-width="0.9"/>
<line x1="503.4" x2="503.4" y1="53.45" y2="31.44" stroke="#000" stroke-width="3.7" stroke-linecap="round"/>
<path d="M545.5 263.2 L545.13 260.38 L543.83 257.57 L542.45 254.75 L540.74 251.94 L539.18 249.12 L538.31 246.31 L537.83 243.49 L537.43 240.68 L537.1 237.86 L536.83 235.05 L536.61 232.23 L536.43 229.42 L536.29 226.6 L536.16 223.79 L536.04 220.97 L535.93 218.16 L535.83 215.34 L535.74 212.53 L535.66 209.71 L535.58 206.9 L535.51 204.08 L535.44 201.27 L535.38 198.45 L535.32 195.64 L535.26 192.82 L535.21 190.01 L535.15 187.19 L535.09 184.38 L535.03 181.56 L534.98 178.75 L534.93 175.93 L534.88 173.12 L534.83 170.3 L534.78 167.49 L534.74 164.67 L534.69 161.86 L534.65 159.04 L534.61 156.23 L534.56 153.41 L534.52 150.59 L534.48 147.78 L534.44 144.96 L534.4 142.15 L534.36 139.33 L534.32 136.52 L534.28 133.7 L534.24 130.89 L534.2 128.07 L534.15 125.26 L534.11 122.44 L534.07 119.63 L534.03 116.81 L533.99 114 L533.95 111.18 L533.91 108.37 L533.87 105.55 L533.83 102.74 L533.79 99.92 L533.75 97.11 L533.71 94.29 L533.66 91.48 L533.62 88.66 L533.57 85.85 L533.52 83.03 L533.47 80.22 L533.42 77.4 L533.37 74.59 L533.32 71.77 L533.27 68.96 L533.22 66.14 L533.16 63.33 L533.11 60.51 L533.05 57.7 L532.99 54.88 L532.94 52.07 L532.88 49.25 L532.82 46.44 L532.76 43.62 L532.7 40.8 L531.5 40.8 L531.44 43.62 L531.38 46.44 L531.32 49.25 L531.26 52.07 L531.21 54.88 L531.15 57.7 L531.09 60.51 L531.04 63.33 L530.98 66.14 L530.93 68.96 L530.88 71.77 L530.83 74.59 L530.78 77.4 L530.73 80.22 L530.68 83.03 L530.63 85.85 L530.58 88.66 L530.54 91.48 L530.49 94.29 L530.45 97.11 L530.41 99.92 L530.37 102.74 L530.33 105.55 L530.29 108.37 L530.25 111.18 L530.21 114 L530.17 116.81 L530.13 119.63 L530.09 122.44 L530.05 125.26 L530 128.07 L529.96 130.89 L529.92 133.7 L529.88 136.52 L529.84 139.33 L529.8 142.15 L529.76 144.96 L529.72 147.78 L529.68 150.59 L529.64 153.41 L529.59 156.23 L529.55 159.04 L529.51 161.86 L529.46 164.67 L529.42 167.49 L529.37 170.3 L529.32 173.12 L529.27 175.93 L529.22 178.75 L529.17 181.56 L529.11 184.38 L529.05 187.19 L528.99 190.01 L528.94 192.82 L528.88 195.64 L528.82 198.45 L528.76 201.27 L528.69 204.08 L528.62 206.9 L528.54 209.71 L528.46 212.53 L528.37 215.34 L528.27 218.16 L528.16 220.97 L528.04 223.79 L527.91 226.6 L527.77 229.42 L527.59 232.23 L527.37 235.05 L527.1 237.86 L526.77 240.68 L526.37 243.49 L525.89 246.31 L525.02 249.12 L523.46 251.94 L521.75 254.75 L520.37 257.57 L519.07 260.38 L518.7 263.2Z" fill="#e612d2" stroke="#2e2e2e" stroke-width="1.3"/>
<line x1="532.1" x2="532.1" y1="263.2" y2="30.27" stroke="#444" stroke-width="1.4"/>
<line x1="532.1" x2="532.1" y1="38.46" y2="30.27" stroke="#000" stroke-width="3.7" stroke-linecap="round"/>
<path d="M574 263.2 L573.37 262.13 L572.41 261.07 L571.5 260 L570.87 258.93 L570.32 257.87 L569.83 256.8 L569.38 255.73 L568.97 254.67 L568.57 253.6 L568.19 252.53 L567.79 251.47 L567.38 250.4 L566.97 249.33 L566.55 248.27 L566.14 247.2 L565.74 246.13 L565.35 245.06 L564.98 244 L564.63 242.93 L564.31 241.86 L564.02 240.8 L563.76 239.73 L563.55 238.66 L563.37 237.6 L563.19 236.53 L563.02 235.46 L562.86 234.4 L562.7 233.33 L562.55 232.26 L562.41 231.2 L562.29 230.13 L562.17 229.06 L562.07 228 L561.98 226.93 L561.91 225.86 L561.85 224.8 L561.81 223.73 L561.78 222.66 L561.76 221.6 L561.73 220.53 L561.71 219.46 L561.69 218.4 L561.67 217.33 L561.65 216.26 L561.63 215.19 L561.61 214.13 L561.59 213.06 L561.57 211.99 L561.55 210.93 L561.53 209.86 L561.52 208.79 L561.5 207.73 L561.49 206.66 L561.47 205.59 L561.46 204.53 L561.44 203.46 L561.43 202.39 L561.42 201.33 L561.41 200.26 L561.4 199.19 L561.39 198.13 L561.38 197.06 L561.37 195.99 L561.36 194.93 L561.35 193.86 L561.35 192.79 L561.34 191.73 L561.33 190.66 L561.33 189.59 L561.32 188.53 L561.32 187.46 L561.31 186.39 L561.31 185.32 L561.31 184.26 L561.3 183.19 L561.3 182.12 L561.3 181.06 L561.3 179.99 L561.3 178.92 L560.3 178.92 L560.3 179.99 L560.3 181.06 L560.3 182.12 L560.3 183.19 L560.29 184.26 L560.29 185.32 L560.29 186.39 L560.28 187.46 L560.28 188.53 L560.27 189.59 L560.27 190.66 L560.26 191.73 L560.25 192.79 L560.25 193.86 L560.24 194.93 L560.23 195.99 L560.22 197.06 L560.21 198.13 L560.2 199.19 L560.19 200.26 L560.18 201.33 L560.17 202.39 L560.16 203.46 L560.14 204.53 L560.13 205.59 L560.11 206.66 L560.1 207.73 L560.08 208.79 L560.07 209.86 L560.05 210.93 L560.03 211.99 L560.01 213.06 L559.99 214.13 L559.97 215.19 L559.95 216.26 L559.93 217.33 L559.91 218.4 L559.89 219.46 L559.87 220.53 L559.84 221.6 L559.82 222.66 L559.79 223.73 L559.75 224.8 L559.69 225.86 L559.62 226.93 L559.53 228 L559.43 229.06 L559.31 230.13 L559.19 231.2 L559.05 232.26 L558.9 233.33 L558.74 234.4 L558.58 235.46 L558.41 236.53 L558.23 237.6 L558.05 238.66 L557.84 239.73 L557.58 240.8 L557.29 241.86 L556.97 242.93 L556.62 244 L556.25 245.06 L555.86 246.13 L555.46 247.2 L555.05 248.27 L554.63 249.33 L554.22 250.4 L553.81 251.47 L553.41 252.53 L553.03 253.6 L552.63 254.67 L552.22 255.73 L551.77 256.8 L551.28 257.87 L550.73 258.93 L550.1 260 L549.19 261.07 L548.23 262.13 L547.6 263.2Z" fill="#40c020" stroke="#2e2e2e" stroke-width="1.3"/>
<line x1="560.8" x2="560.8" y1="263.2" y2="178.22" stroke="#444" stroke-width="1.4"/>
<line x1="560.8" x2="560.8" y1="178.22" y2="54.38" stroke="#000" stroke-width="3.7" stroke-linecap="round"/>
<path d="M602.7 263.2 L602.58 262.74 L602.41 262.28 L602.19 261.82 L601.88 261.36 L601.52 260.9 L601.18 260.44 L600.91 259.98 L600.67 259.53 L600.45 259.07 L600.24 258.61 L600.03 258.15 L599.84 257.69 L599.65 257.23 L599.47 256.77 L599.29 256.31 L599.12 255.85 L598.95 255.39 L598.79 254.93 L598.63 254.47 L598.47 254.01 L598.32 253.55 L598.16 253.1 L598 252.64 L597.84 252.18 L597.68 251.72 L597.51 251.26 L597.35 250.8 L597.19 250.34 L597.02 249.88 L596.86 249.42 L596.7 248.96 L596.54 248.5 L596.38 248.04 L596.22 247.58 L596.06 247.12 L595.9 246.66 L595.74 246.21 L595.59 245.75 L595.43 245.29 L595.28 244.83 L595.13 244.37 L594.98 243.91 L594.83 243.45 L594.68 242.99 L594.54 242.53 L594.39 242.07 L594.25 241.61 L594.11 241.15 L593.97 240.69 L593.83 240.23 L593.7 239.78 L593.56 239.32 L593.43 238.86 L593.3 238.4 L593.18 237.94 L593.05 237.48 L592.92 237.02 L592.8 236.56 L592.68 236.1 L592.56 235.64 L592.43 235.18 L592.32 234.72 L592.2 234.26 L592.08 233.8 L591.97 233.34 L591.85 232.89 L591.74 232.43 L591.63 231.97 L591.52 231.51 L591.41 231.05 L591.3 230.59 L591.2 230.13 L591.09 229.67 L590.99 229.21 L590.89 228.75 L590.79 228.29 L590.69 227.83 L590.59 227.37 L590.5 226.91 L588.5 226.91 L588.41 227.37 L588.31 227.83 L588.21 228.29 L588.11 228.75 L588.01 229.21 L587.91 229.67 L587.8 230.13 L587.7 230.59 L587.59 231.05 L587.48 231.51 L587.37 231.97 L587.26 232.43 L587.15 232.89 L587.03 233.34 L586.92 233.8 L586.8 234.26 L586.68 234.72 L586.57 235.18 L586.44 235.64 L586.32 236.1 L586.2 236.56 L586.08 237.02 L585.95 237.48 L585.82 237.94 L585.7 238.4 L585.57 238.86 L585.44 239.32 L585.3 239.78 L585.17 240.23 L585.03 240.69 L584.89 241.15 L584.75 241.61 L584.61 242.07 L584.46 242.53 L584.32 242.99 L584.17 243.45 L584.02 243.91 L583.87 244.37 L583.72 244.83 L583.57 245.29 L583.41 245.75 L583.26 246.21 L583.1 246.66 L582.94 247.12 L582.78 247.58 L582.62 248.04 L582.46 248.5 L582.3 248.96 L582.14 249.42 L581.98 249.88 L581.81 250.34 L581.65 250.8 L581.49 251.26 L581.32 251.72 L581.16 252.18 L581 252.64 L580.84 253.1 L580.68 253.55 L580.53 254.01 L580.37 254.47 L580.21 254.93 L580.05 255.39 L579.88 255.85 L579.71 256.31 L579.53 256.77 L579.35 257.23 L579.16 257.69 L578.97 258.15 L578.76 258.61 L578.55 259.07 L578.33 259.53 L578.09 259.98 L577.82 260.44 L577.48 260.9 L577.12 261.36 L576.81 261.82 L576.59 262.28 L576.42 262.74 L576.3 263.2Z" fill="#ee9900" stroke="#2e2e2e" stroke-width="1.3"/>
<line x1="589.5" x2="589.5" y1="263.2" y2="226.91" stroke="#444" stroke-width="1.4"/>
<rect x="588.4" y="244.47" width="2.2" height="16.39" fill="#4a4a4a" stroke="#333" stroke-width="0.9"/>
<line x1="589.5" x2="589.5" y1="263.2" y2="38.93" stroke="#222" stroke-width="1.3"/>
<line x1="589.5" x2="589.5" y1="226.91" y2="57.19" stroke="#000" stroke-width="3.7" stroke-linecap="round"/>
<circle cx="589.5" cy="38.93" r="1.85" fill="#000"/>
<circle cx="589.5" cy="45.49" r="1.85" fill="#000"/>
<circle cx="589.5" cy="50.17" r="1.85" fill="#000"/>
<circle cx="589.5" cy="54.85" r="1.85" fill="#000"/>
<path d="M631.4 262.97 L630.19 262.82 L628.98 262.68 L627.78 262.53 L626.63 262.39 L625.53 262.24 L624.51 262.09 L623.58 261.95 L622.77 261.8 L622.11 261.66 L621.59 261.51 L621.26 261.37 L621.07 261.22 L620.9 261.08 L620.75 260.93 L620.6 260.79 L620.46 260.64 L620.34 260.5 L620.22 260.35 L620.11 260.21 L620.01 260.06 L619.92 259.92 L619.83 259.77 L619.76 259.63 L619.69 259.48 L619.63 259.34 L619.57 259.19 L619.52 259.05 L619.48 258.9 L619.45 258.76 L619.42 258.61 L619.39 258.46 L619.37 258.32 L619.34 258.17 L619.32 258.03 L619.3 257.88 L619.28 257.74 L619.25 257.59 L619.23 257.45 L619.21 257.3 L619.19 257.16 L619.17 257.01 L619.15 256.87 L619.13 256.72 L619.12 256.58 L619.1 256.43 L619.08 256.29 L619.06 256.14 L619.05 256 L619.03 255.85 L619.02 255.71 L619 255.56 L618.99 255.42 L618.97 255.27 L618.96 255.13 L618.95 254.98 L618.94 254.83 L618.93 254.69 L618.91 254.54 L618.9 254.4 L618.89 254.25 L618.88 254.11 L618.88 253.96 L618.87 253.82 L618.86 253.67 L618.85 253.53 L618.84 253.38 L618.84 253.24 L618.83 253.09 L618.83 252.95 L618.82 252.8 L618.82 252.66 L618.81 252.51 L618.81 252.37 L618.81 252.22 L618.8 252.08 L618.8 251.93 L618.8 251.79 L618.8 251.64 L618.8 251.49 L617.6 251.49 L617.6 251.64 L617.6 251.79 L617.6 251.93 L617.6 252.08 L617.59 252.22 L617.59 252.37 L617.59 252.51 L617.58 252.66 L617.58 252.8 L617.57 252.95 L617.57 253.09 L617.56 253.24 L617.56 253.38 L617.55 253.53 L617.54 253.67 L617.53 253.82 L617.52 253.96 L617.52 254.11 L617.51 254.25 L617.5 254.4 L617.49 254.54 L617.47 254.69 L617.46 254.83 L617.45 254.98 L617.44 255.13 L617.43 255.27 L617.41 255.42 L617.4 255.56 L617.38 255.71 L617.37 255.85 L617.35 256 L617.34 256.14 L617.32 256.29 L617.3 256.43 L617.28 256.58 L617.27 256.72 L617.25 256.87 L617.23 257.01 L617.21 257.16 L617.19 257.3 L617.17 257.45 L617.15 257.59 L617.12 257.74 L617.1 257.88 L617.08 258.03 L617.06 258.17 L617.03 258.32 L617.01 258.46 L616.98 258.61 L616.95 258.76 L616.92 258.9 L616.88 259.05 L616.83 259.19 L616.77 259.34 L616.71 259.48 L616.64 259.63 L616.57 259.77 L616.48 259.92 L616.39 260.06 L616.29 260.21 L616.18 260.35 L616.06 260.5 L615.94 260.64 L615.8 260.79 L615.65 260.93 L615.5 261.08 L615.33 261.22 L615.14 261.37 L614.81 261.51 L614.29 261.66 L613.63 261.8 L612.82 261.95 L611.89 262.09 L610.87 262.24 L609.77 262.39 L608.62 262.53 L607.42 262.68 L606.21 262.82 L605 262.97Z" fill="#e05050" stroke="#2e2e2e" stroke-width="1.3"/>
<line x1="618.2" x2="618.2" y1="263.2" y2="133.51" stroke="#444" stroke-width="1.4"/>
<line x1="618.2" x2="618.2" y1="263.2" y2="133.51" stroke="#222" stroke-width="1.3"/>
<line x1="618.2" x2="618.2" y1="253.84" y2="186.18" stroke="#000" stroke-width="3.7" stroke-linecap="round"/>
<circle cx="618.2" cy="133.51" r="1.85" fill="#000"/>
<circle cx="618.2" cy="153.41" r="1.85" fill="#000"/>
<path d="M659.8 262.97 L659.3 262.91 L658.79 262.85 L658.28 262.8 L657.78 262.74 L657.27 262.68 L656.76 262.63 L656.26 262.57 L655.77 262.52 L655.28 262.46 L654.8 262.4 L654.33 262.35 L653.87 262.29 L653.42 262.23 L652.98 262.18 L652.56 262.12 L652.15 262.07 L651.76 262.01 L651.39 261.95 L651.04 261.9 L650.71 261.84 L650.4 261.78 L650.12 261.73 L649.86 261.67 L649.63 261.61 L649.42 261.56 L649.25 261.5 L649.1 261.45 L648.99 261.39 L648.91 261.33 L648.85 261.28 L648.79 261.22 L648.73 261.16 L648.67 261.11 L648.62 261.05 L648.57 261 L648.51 260.94 L648.46 260.88 L648.41 260.83 L648.36 260.77 L648.32 260.71 L648.27 260.66 L648.22 260.6 L648.18 260.54 L648.14 260.49 L648.1 260.43 L648.06 260.38 L648.02 260.32 L647.98 260.26 L647.94 260.21 L647.91 260.15 L647.87 260.09 L647.84 260.04 L647.81 259.98 L647.78 259.93 L647.75 259.87 L647.72 259.81 L647.69 259.76 L647.67 259.7 L647.64 259.64 L647.62 259.59 L647.6 259.53 L647.57 259.48 L647.55 259.42 L647.54 259.36 L647.52 259.31 L647.5 259.25 L647.49 259.19 L647.47 259.14 L647.46 259.08 L647.45 259.02 L647.44 258.97 L647.43 258.91 L647.42 258.86 L647.42 258.8 L647.41 258.74 L647.41 258.69 L647.4 258.63 L647.4 258.57 L647.4 258.52 L646.4 258.52 L646.4 258.57 L646.4 258.63 L646.39 258.69 L646.39 258.74 L646.38 258.8 L646.38 258.86 L646.37 258.91 L646.36 258.97 L646.35 259.02 L646.34 259.08 L646.33 259.14 L646.31 259.19 L646.3 259.25 L646.28 259.31 L646.26 259.36 L646.25 259.42 L646.23 259.48 L646.2 259.53 L646.18 259.59 L646.16 259.64 L646.13 259.7 L646.11 259.76 L646.08 259.81 L646.05 259.87 L646.02 259.93 L645.99 259.98 L645.96 260.04 L645.93 260.09 L645.89 260.15 L645.86 260.21 L645.82 260.26 L645.78 260.32 L645.74 260.38 L645.7 260.43 L645.66 260.49 L645.62 260.54 L645.58 260.6 L645.53 260.66 L645.48 260.71 L645.44 260.77 L645.39 260.83 L645.34 260.88 L645.29 260.94 L645.23 261 L645.18 261.05 L645.13 261.11 L645.07 261.16 L645.01 261.22 L644.95 261.28 L644.89 261.33 L644.81 261.39 L644.7 261.45 L644.55 261.5 L644.38 261.56 L644.17 261.61 L643.94 261.67 L643.68 261.73 L643.4 261.78 L643.09 261.84 L642.76 261.9 L642.41 261.95 L642.04 262.01 L641.65 262.07 L641.24 262.12 L640.82 262.18 L640.38 262.23 L639.93 262.29 L639.47 262.35 L639 262.4 L638.52 262.46 L638.03 262.52 L637.54 262.57 L637.04 262.63 L636.53 262.68 L636.02 262.74 L635.52 262.8 L635.01 262.85 L634.5 262.91 L634 262.97Z" fill="#888" stroke="#2e2e2e" stroke-width="1.3"/>
<line x1="646.9" x2="646.9" y1="263.2" y2="217.32" stroke="#444" stroke-width="1.4"/>
<line x1="646.9" x2="646.9" y1="263.2" y2="217.32" stroke="#222" stroke-width="1.3"/>
<line x1="646.9" x2="646.9" y1="260.86" y2="223.64" stroke="#000" stroke-width="3.7" stroke-linecap="round"/>
<circle cx="646.9" cy="217.32" r="1.85" fill="#000"/>
<line x1="675.6" x2="675.6" y1="263.2" y2="240.96" stroke="#000" stroke-width="3.7" stroke-linecap="round"/>
<line x1="704.3" x2="704.3" y1="263.2" y2="38.46" stroke="#444" stroke-width="1.4"/>
<line x1="704.3" x2="704.3" y1="263.2" y2="38.46" stroke="#222" stroke-width="1.3"/>
<line x1="704.3" x2="704.3" y1="263.2" y2="237.68" stroke="#000" stroke-width="3.7" stroke-linecap="round"/>
<circle cx="704.3" cy="38.46" r="1.85" fill="#000"/>
<circle cx="704.3" cy="40.34" r="1.85" fill="#000"/>
<circle cx="704.3" cy="42.21" r="1.85" fill="#000"/>
<circle cx="704.3" cy="44.08" r="1.85" fill="#000"/>
<circle cx="704.3" cy="45.96" r="1.85" fill="#000"/>
<circle cx="704.3" cy="47.83" r="1.85" fill="#000"/>
<circle cx="704.3" cy="49.7" r="1.85" fill="#000"/>
<circle cx="704.3" cy="55.09" r="1.85" fill="#000"/>
<circle cx="704.3" cy="72.41" r="1.85" fill="#000"/>
<circle cx="704.3" cy="79.67" r="1.85" fill="#000"/>
<circle cx="704.3" cy="89.73" r="1.85" fill="#000"/>
<circle cx="704.3" cy="97.69" r="1.85" fill="#000"/>
<circle cx="704.3" cy="130" r="1.85" fill="#000"/>
<circle cx="704.3" cy="149.43" r="1.85" fill="#000"/>
<circle cx="704.3" cy="181.5" r="1.85" fill="#000"/>
<circle cx="704.3" cy="205.38" r="1.85" fill="#000"/>
<circle cx="704.3" cy="210.53" r="1.85" fill="#000"/>
<circle cx="704.3" cy="215.44" r="1.85" fill="#000"/>
<circle cx="704.3" cy="220.59" r="1.85" fill="#000"/>
<circle cx="704.3" cy="225.74" r="1.85" fill="#000"/>
<circle cx="704.3" cy="230.43" r="1.85" fill="#000"/>
<circle cx="704.3" cy="233.94" r="1.85" fill="#000"/>
<path d="M746.4 262.97 L745.87 262.91 L745.34 262.85 L744.81 262.8 L744.28 262.74 L743.75 262.68 L743.22 262.63 L742.7 262.57 L742.18 262.52 L741.67 262.46 L741.16 262.4 L740.67 262.35 L740.18 262.29 L739.71 262.23 L739.26 262.18 L738.81 262.12 L738.39 262.07 L737.98 262.01 L737.59 261.95 L737.23 261.9 L736.88 261.84 L736.56 261.78 L736.26 261.73 L735.99 261.67 L735.75 261.61 L735.54 261.56 L735.36 261.5 L735.21 261.45 L735.09 261.39 L735.01 261.33 L734.95 261.28 L734.89 261.22 L734.83 261.16 L734.77 261.11 L734.72 261.05 L734.67 261 L734.61 260.94 L734.56 260.88 L734.51 260.83 L734.46 260.77 L734.41 260.71 L734.37 260.66 L734.32 260.6 L734.28 260.54 L734.24 260.49 L734.19 260.43 L734.15 260.38 L734.12 260.32 L734.08 260.26 L734.04 260.21 L734 260.15 L733.97 260.09 L733.94 260.04 L733.91 259.98 L733.87 259.93 L733.85 259.87 L733.82 259.81 L733.79 259.76 L733.76 259.7 L733.74 259.64 L733.72 259.59 L733.69 259.53 L733.67 259.48 L733.65 259.42 L733.63 259.36 L733.62 259.31 L733.6 259.25 L733.59 259.19 L733.57 259.14 L733.56 259.08 L733.55 259.02 L733.54 258.97 L733.53 258.91 L733.52 258.86 L733.51 258.8 L733.51 258.74 L733.51 258.69 L733.5 258.63 L733.5 258.57 L733.5 258.52 L732.5 258.52 L732.5 258.57 L732.5 258.63 L732.49 258.69 L732.49 258.74 L732.49 258.8 L732.48 258.86 L732.47 258.91 L732.46 258.97 L732.45 259.02 L732.44 259.08 L732.43 259.14 L732.41 259.19 L732.4 259.25 L732.38 259.31 L732.37 259.36 L732.35 259.42 L732.33 259.48 L732.31 259.53 L732.28 259.59 L732.26 259.64 L732.24 259.7 L732.21 259.76 L732.18 259.81 L732.15 259.87 L732.13 259.93 L732.09 259.98 L732.06 260.04 L732.03 260.09 L732 260.15 L731.96 260.21 L731.92 260.26 L731.88 260.32 L731.85 260.38 L731.81 260.43 L731.76 260.49 L731.72 260.54 L731.68 260.6 L731.63 260.66 L731.59 260.71 L731.54 260.77 L731.49 260.83 L731.44 260.88 L731.39 260.94 L731.33 261 L731.28 261.05 L731.23 261.11 L731.17 261.16 L731.11 261.22 L731.05 261.28 L730.99 261.33 L730.91 261.39 L730.79 261.45 L730.64 261.5 L730.46 261.56 L730.25 261.61 L730.01 261.67 L729.74 261.73 L729.44 261.78 L729.12 261.84 L728.77 261.9 L728.41 261.95 L728.02 262.01 L727.61 262.07 L727.19 262.12 L726.74 262.18 L726.29 262.23 L725.82 262.29 L725.33 262.35 L724.84 262.4 L724.33 262.46 L723.82 262.52 L723.3 262.57 L722.78 262.63 L722.25 262.68 L721.72 262.74 L721.19 262.8 L720.66 262.85 L720.13 262.91 L719.6 262.97Z" fill="#888" stroke="#2e2e2e" stroke-width="1.3"/>
<line x1="733" x2="733" y1="263.2" y2="152.94" stroke="#444" stroke-width="1.4"/>
<line x1="733" x2="733" y1="263.2" y2="152.94" stroke="#222" stroke-width="1.3"/>
<line x1="733" x2="733" y1="260.86" y2="182.2" stroke="#000" stroke-width="3.7" stroke-linecap="round"/>
<circle cx="733" cy="152.94" r="1.85" fill="#000"/>
<circle cx="733" cy="161.37" r="1.85" fill="#000"/>
<circle cx="733" cy="171.9" r="1.85" fill="#000"/>
<path d="M765.5 262.5 L767.01 259.9 L768.92 257.3 L770.76 254.7 L772.06 252.1 L773.2 249.5 L774.28 246.9 L775.2 244.31 L775.88 241.71 L776.26 239.11 L776.3 236.51 L776.27 233.91 L776.21 231.31 L776.14 228.71 L776.05 226.11 L775.95 223.52 L775.84 220.92 L775.72 218.32 L775.6 215.72 L775.47 213.12 L775.36 210.52 L775.23 207.92 L775.09 205.32 L774.93 202.73 L774.76 200.13 L774.59 197.53 L774.4 194.93 L774.21 192.33 L774 189.73 L773.8 187.13 L773.59 184.53 L773.37 181.93 L773.15 179.34 L772.94 176.74 L772.72 174.14 L772.5 171.54 L772.29 168.94 L772.08 166.34 L771.88 163.74 L771.68 161.14 L771.49 158.55 L771.31 155.95 L771.14 153.35 L770.97 150.75 L770.82 148.15 L770.67 145.55 L770.52 142.95 L770.38 140.35 L770.25 137.75 L770.12 135.16 L769.98 132.56 L769.85 129.96 L769.72 127.36 L769.59 124.76 L769.45 122.16 L769.31 119.56 L769.17 116.96 L769.02 114.37 L768.86 111.77 L768.69 109.17 L768.52 106.57 L768.33 103.97 L768.14 101.37 L767.93 98.77 L767.71 96.17 L767.45 93.58 L767.16 90.98 L766.84 88.38 L766.5 85.78 L766.14 83.18 L765.76 80.58 L765.39 77.98 L765.01 75.38 L764.64 72.78 L764.28 70.19 L763.93 67.59 L763.58 64.99 L763.22 62.39 L762.86 59.79 L762.5 57.19 L760.9 57.19 L760.54 59.79 L760.18 62.39 L759.82 64.99 L759.47 67.59 L759.12 70.19 L758.76 72.78 L758.39 75.38 L758.01 77.98 L757.64 80.58 L757.26 83.18 L756.9 85.78 L756.56 88.38 L756.24 90.98 L755.95 93.58 L755.69 96.17 L755.47 98.77 L755.26 101.37 L755.07 103.97 L754.88 106.57 L754.71 109.17 L754.54 111.77 L754.38 114.37 L754.23 116.96 L754.09 119.56 L753.95 122.16 L753.81 124.76 L753.68 127.36 L753.55 129.96 L753.42 132.56 L753.28 135.16 L753.15 137.75 L753.02 140.35 L752.88 142.95 L752.73 145.55 L752.58 148.15 L752.43 150.75 L752.26 153.35 L752.09 155.95 L751.91 158.55 L751.72 161.14 L751.52 163.74 L751.32 166.34 L751.11 168.94 L750.9 171.54 L750.68 174.14 L750.46 176.74 L750.25 179.34 L750.03 181.93 L749.81 184.53 L749.6 187.13 L749.4 189.73 L749.19 192.33 L749 194.93 L748.81 197.53 L748.64 200.13 L748.47 202.73 L748.31 205.32 L748.17 207.92 L748.04 210.52 L747.93 213.12 L747.8 215.72 L747.68 218.32 L747.56 220.92 L747.45 223.52 L747.35 226.11 L747.26 228.71 L747.19 231.31 L747.13 233.91 L747.1 236.51 L747.14 239.11 L747.52 241.71 L748.2 244.31 L749.12 246.9 L750.2 249.5 L751.34 252.1 L752.64 254.7 L754.48 257.3 L756.39 259.9 L757.9 262.5Z" fill="#d9d9d9" stroke="#2e2e2e" stroke-width="1.3"/>
<line x1="761.7" x2="761.7" y1="262.5" y2="32.85" stroke="#444" stroke-width="1.4"/>
<rect x="760.6" y="154.34" width="2.2" height="79.83" fill="#4a4a4a" stroke="#333" stroke-width="0.9"/>
<line x1="761.7" x2="761.7" y1="263.2" y2="32.85" stroke="#222" stroke-width="1.3"/>
<circle cx="761.7" cy="32.85" r="1.85" fill="#000"/>
<rect x="428.5" y="17.5" width="350" height="257.3" fill="none" stroke="#7a7a7a" stroke-width="1.2"/>
<line x1="424.5" x2="428.5" y1="263.2" y2="263.2" stroke="#222" stroke-width="1.2"/>
<text x="423.7" y="266.1" font-size="8.2" text-anchor="end" class="m">0</text>
<line x1="424.5" x2="428.5" y1="204.67" y2="204.67" stroke="#222" stroke-width="1.2"/>
<text x="423.7" y="207.57" font-size="8.2" text-anchor="end" class="m">25</text>
<line x1="424.5" x2="428.5" y1="146.15" y2="146.15" stroke="#222" stroke-width="1.2"/>
<text x="423.7" y="149.05" font-size="8.2" text-anchor="end" class="m">50</text>
<line x1="424.5" x2="428.5" y1="87.62" y2="87.62" stroke="#222" stroke-width="1.2"/>
<text x="423.7" y="90.52" font-size="8.2" text-anchor="end" class="m">75</text>
<line x1="424.5" x2="428.5" y1="29.1" y2="29.1" stroke="#222" stroke-width="1.2"/>
<text x="423.7" y="32" font-size="8.2" text-anchor="end" class="m">100</text>
<line x1="446" x2="446" y1="274.8" y2="278.3" stroke="#222" stroke-width="1.2"/>
<line x1="474.7" x2="474.7" y1="274.8" y2="278.3" stroke="#222" stroke-width="1.2"/>
<line x1="503.4" x2="503.4" y1="274.8" y2="278.3" stroke="#222" stroke-width="1.2"/>
<line x1="532.1" x2="532.1" y1="274.8" y2="278.3" stroke="#222" stroke-width="1.2"/>
<line x1="560.8" x2="560.8" y1="274.8" y2="278.3" stroke="#222" stroke-width="1.2"/>
<line x1="589.5" x2="589.5" y1="274.8" y2="278.3" stroke="#222" stroke-width="1.2"/>
<line x1="618.2" x2="618.2" y1="274.8" y2="278.3" stroke="#222" stroke-width="1.2"/>
<line x1="646.9" x2="646.9" y1="274.8" y2="278.3" stroke="#222" stroke-width="1.2"/>
<line x1="675.6" x2="675.6" y1="274.8" y2="278.3" stroke="#222" stroke-width="1.2"/>
<line x1="704.3" x2="704.3" y1="274.8" y2="278.3" stroke="#222" stroke-width="1.2"/>
<line x1="733" x2="733" y1="274.8" y2="278.3" stroke="#222" stroke-width="1.2"/>
<line x1="761.7" x2="761.7" y1="274.8" y2="278.3" stroke="#222" stroke-width="1.2"/>
<text x="453.1" y="286.7" font-size="11.5" text-anchor="end" transform="rotate(-20 453.1 286.7)" class="lab">Blood / Individual</text>
<text x="483.8" y="287.4" font-size="11.5" text-anchor="end" transform="rotate(-20 483.8 287.4)" class="lab">Skin / Individual</text>
<text x="517" y="287" font-size="11.5" text-anchor="end" transform="rotate(-20 517 287)" class="lab">Blood Vessel / Individual</text>
<text x="548.2" y="286.7" font-size="11.5" text-anchor="end" transform="rotate(-20 548.2 286.7)" class="lab">Adipose Tissue / Individual</text>
<text x="580.8" y="285.4" font-size="11.5" text-anchor="end" transform="rotate(-20 580.8 285.4)" class="lab">Ischemic time</text>
<text x="604.4" y="288" font-size="11.5" text-anchor="end" transform="rotate(-20 604.4 288)" class="lab">expression batch</text>
<text x="636.2" y="288.7" font-size="11.5" text-anchor="end" transform="rotate(-20 636.2 288.7)" class="lab">RNA isolation batch</text>
<text x="657.9" y="286.7" font-size="11.5" text-anchor="end" transform="rotate(-20 657.9 286.7)" class="lab">RIN</text>
<text x="680.2" y="285.4" font-size="11.5" text-anchor="end" transform="rotate(-20 680.2 285.4)" class="lab">age</text>
<text x="708.9" y="285.8" font-size="11.5" text-anchor="end" transform="rotate(-20 708.9 285.8)" class="lab">sex</text>
<text x="744.6" y="285.4" font-size="11.5" text-anchor="end" transform="rotate(-20 744.6 285.4)" class="lab">collection center</text>
<text x="774.6" y="286.7" font-size="11.5" text-anchor="end" transform="rotate(-20 774.6 286.7)" class="lab">Residuals</text>
<text x="409.5" y="146.15" font-size="10.6" text-anchor="middle" class="m" transform="rotate(-90 409.5 146.15)">Variance explained (%)</text>
<text x="401.6" y="14.0" font-size="19" class="big">b</text>
<rect x="34.4" y="355.2" width="206.3" height="205.5" fill="none" stroke="#333" stroke-width="1.3"/>
<line x1="34.9" x2="240.2" y1="462.6" y2="462.6" stroke="#ee9900" stroke-width="1.3" stroke-dasharray="4.5 3"/>
<line x1="34.9" x2="240.2" y1="477" y2="477" stroke="#0b5cf4" stroke-width="1.3" stroke-dasharray="4.5 3"/>
<line x1="34.9" x2="240.2" y1="485.6" y2="485.6" stroke="#e80acc" stroke-width="1.3" stroke-dasharray="4.5 3"/>
<line x1="34.9" x2="240.2" y1="511.6" y2="511.6" stroke="#08e830" stroke-width="1.3" stroke-dasharray="4.5 3"/>
<path d="M42 504.6 L45.17 503.79 L48.33 502.97 L51.5 502.13 L54.66 501.28 L57.83 500.42 L61 499.54 L64.16 498.65 L67.33 497.75 L70.49 496.83 L73.66 495.9 L76.82 494.95 L79.99 493.98 L83.16 493 L86.32 492.01 L89.49 491 L92.65 489.98 L95.82 488.93 L98.99 487.88 L102.15 486.8 L105.32 485.71 L108.48 484.6 L111.65 483.48 L114.82 482.33 L117.98 481.17 L121.15 480 L124.31 478.8 L127.48 477.59 L130.65 476.35 L133.81 475.1 L136.98 473.83 L140.14 472.54 L143.31 471.23 L146.47 469.9 L149.64 468.55 L152.81 467.18 L155.97 465.79 L159.14 464.37 L162.3 462.94 L165.47 461.49 L168.64 460.01 L171.8 458.51 L174.97 456.99 L178.13 455.45 L181.3 453.88 L184.47 452.3 L187.63 450.69 L190.8 449.05 L193.96 447.39 L197.13 445.71 L200.29 444 L203.46 442.27 L206.63 440.51 L209.79 438.73 L212.96 436.93 L216.12 435.09 L219.29 433.23 L222.46 431.35 L225.62 429.44 L228.79 427.5" fill="none" stroke="#0b5cf4" stroke-width="3.9" stroke-linecap="round"/>
<path d="M42 489.5 L45.17 489.22 L48.33 488.94 L51.5 488.66 L54.66 488.38 L57.83 488.1 L61 487.82 L64.16 487.53 L67.33 487.25 L70.49 486.96 L73.66 486.67 L76.82 486.38 L79.99 486.09 L83.16 485.8 L86.32 485.5 L89.49 485.21 L92.65 484.91 L95.82 484.62 L98.99 484.32 L102.15 484.02 L105.32 483.72 L108.48 483.42 L111.65 483.12 L114.82 482.81 L117.98 482.51 L121.15 482.2 L124.31 481.89 L127.48 481.58 L130.65 481.27 L133.81 480.96 L136.98 480.65 L140.14 480.33 L143.31 480.02 L146.47 479.7 L149.64 479.38 L152.81 479.06 L155.97 478.74 L159.14 478.42 L162.3 478.1 L165.47 477.77 L168.64 477.45 L171.8 477.12 L174.97 476.79 L178.13 476.46 L181.3 476.13 L184.47 475.8 L187.63 475.46 L190.8 475.13 L193.96 474.79 L197.13 474.46 L200.29 474.12 L203.46 473.78 L206.63 473.43 L209.79 473.09 L212.96 472.74 L216.12 472.4 L219.29 472.05 L222.46 471.7 L225.62 471.35 L228.79 471" fill="none" stroke="#e80acc" stroke-width="3.9" stroke-linecap="round"/>
<path d="M42 528.9 L45.17 528.25 L48.33 527.58 L51.5 526.89 L54.66 526.19 L57.83 525.46 L61 524.72 L64.16 523.96 L67.33 523.17 L70.49 522.37 L73.66 521.54 L76.82 520.7 L79.99 519.83 L83.16 518.94 L86.32 518.02 L89.49 517.09 L92.65 516.12 L95.82 515.14 L98.99 514.12 L102.15 513.08 L105.32 512.02 L108.48 510.92 L111.65 509.8 L114.82 508.65 L117.98 507.47 L121.15 506.26 L124.31 505.02 L127.48 503.75 L130.65 502.44 L133.81 501.1 L136.98 499.73 L140.14 498.32 L143.31 496.88 L146.47 495.4 L149.64 493.88 L152.81 492.33 L155.97 490.74 L159.14 489.11 L162.3 487.43 L165.47 485.72 L168.64 483.96 L171.8 482.16 L174.97 480.32 L178.13 478.43 L181.3 476.5 L184.47 474.52 L187.63 472.49 L190.8 470.41 L193.96 468.28 L197.13 466.1 L200.29 463.87 L203.46 461.59 L206.63 459.25 L209.79 456.86 L212.96 454.41 L216.12 451.91 L219.29 449.35 L222.46 446.72 L225.62 444.04 L228.79 441.3" fill="none" stroke="#08e830" stroke-width="3.9" stroke-linecap="round"/>
<path d="M42 520.9 L45.17 519.96 L48.33 518.99 L51.5 518 L54.66 516.97 L57.83 515.92 L61 514.84 L64.16 513.72 L67.33 512.58 L70.49 511.4 L73.66 510.19 L76.82 508.95 L79.99 507.67 L83.16 506.35 L86.32 505 L89.49 503.61 L92.65 502.19 L95.82 500.72 L98.99 499.21 L102.15 497.66 L105.32 496.07 L108.48 494.44 L111.65 492.76 L114.82 491.03 L117.98 489.26 L121.15 487.44 L124.31 485.57 L127.48 483.65 L130.65 481.68 L133.81 479.66 L136.98 477.58 L140.14 475.45 L143.31 473.26 L146.47 471.02 L149.64 468.71 L152.81 466.35 L155.97 463.92 L159.14 461.43 L162.3 458.88 L165.47 456.26 L168.64 453.58 L171.8 450.83 L174.97 448.01 L178.13 445.11 L181.3 442.15 L184.47 439.11 L187.63 436 L190.8 432.81 L193.96 429.54 L197.13 426.2 L200.29 422.77 L203.46 419.26 L206.63 415.67 L209.79 412 L212.96 408.24 L216.12 404.39 L219.29 400.45 L222.46 396.43 L225.62 392.31 L228.79 388.1" fill="none" stroke="#ee9900" stroke-width="3.9" stroke-linecap="round"/>
<line x1="28.9" x2="34.4" y1="553" y2="553" stroke="#222" stroke-width="1"/>
<text y="553" font-size="10" text-anchor="middle" class="m" transform="rotate(-90 22 553)" x="22">0.00</text>
<line x1="28.9" x2="34.4" y1="489.5" y2="489.5" stroke="#222" stroke-width="1"/>
<text y="489.5" font-size="10" text-anchor="middle" class="m" transform="rotate(-90 22 489.5)" x="22">0.05</text>
<line x1="28.9" x2="34.4" y1="426" y2="426" stroke="#222" stroke-width="1"/>
<text y="426" font-size="10" text-anchor="middle" class="m" transform="rotate(-90 22 426)" x="22">0.10</text>
<line x1="28.9" x2="34.4" y1="362.5" y2="362.5" stroke="#222" stroke-width="1"/>
<text y="362.5" font-size="10" text-anchor="middle" class="m" transform="rotate(-90 22 362.5)" x="22">0.15</text>
<line x1="42" x2="42" y1="560.7" y2="566.2" stroke="#222" stroke-width="1"/>
<text x="42" y="580.6" font-size="9.8" text-anchor="middle" class="m">0</text>
<line x1="80.12" x2="80.12" y1="560.7" y2="566.2" stroke="#222" stroke-width="1"/>
<text x="80.12" y="580.6" font-size="9.8" text-anchor="middle" class="m">20</text>
<line x1="118.24" x2="118.24" y1="560.7" y2="566.2" stroke="#222" stroke-width="1"/>
<text x="118.24" y="580.6" font-size="9.8" text-anchor="middle" class="m">40</text>
<line x1="156.36" x2="156.36" y1="560.7" y2="566.2" stroke="#222" stroke-width="1"/>
<text x="156.36" y="580.6" font-size="9.8" text-anchor="middle" class="m">60</text>
<line x1="194.48" x2="194.48" y1="560.7" y2="566.2" stroke="#222" stroke-width="1"/>
<text x="194.48" y="580.6" font-size="9.8" text-anchor="middle" class="m">80</text>
<line x1="232.6" x2="232.6" y1="560.7" y2="566.2" stroke="#222" stroke-width="1"/>
<text x="232.6" y="580.6" font-size="9.8" text-anchor="middle" class="m">100</text>
<text x="137.5" y="593.8" font-size="10.5" text-anchor="middle" class="m">% variance explained by Individual</text>
<text x="8.6" y="456" font-size="10.5" text-anchor="middle" class="m" transform="rotate(-90 8.6 456)">Probability of having cis−eQTL</text>
<rect x="44.1" y="363.05" width="7.6" height="6.5" fill="#ee9900"/>
<text x="57.6" y="370.1" font-size="10.1" textLength="117.5" lengthAdjust="spacingAndGlyphs" class="m">Blood / Individual: 2.7e−100</text>
<rect x="44.1" y="374.5" width="7.6" height="6.5" fill="#0b5cf4"/>
<text x="57.6" y="381.55" font-size="10.1" textLength="106.7" lengthAdjust="spacingAndGlyphs" class="m">Skin / Individual: 1.2e−39</text>
<rect x="44.1" y="385.95" width="7.6" height="6.5" fill="#08e830"/>
<text x="57.6" y="393" font-size="10.1" textLength="142.9" lengthAdjust="spacingAndGlyphs" class="m">Blood Vessel / Individual: 1.3e−45</text>
<rect x="44.1" y="397.4" width="7.6" height="6.5" fill="#e80acc"/>
<text x="57.6" y="404.45" font-size="10.1" textLength="147.6" lengthAdjust="spacingAndGlyphs" class="m">Adipose Tissue / Individual: 0.0029</text>
<text x="4" y="351" font-size="17.5" class="big">c</text>
<rect x="291.5" y="354.2" width="214.2" height="180.4" fill="#fff"/>
<line x1="291.5" x2="505.7" y1="506.62" y2="506.62" stroke="#e8e8e8" stroke-width="1" stroke-dasharray="1.1 1"/>
<line x1="291.5" x2="505.7" y1="465.46" y2="465.46" stroke="#e8e8e8" stroke-width="1" stroke-dasharray="1.1 1"/>
<line x1="291.5" x2="505.7" y1="424.3" y2="424.3" stroke="#e8e8e8" stroke-width="1" stroke-dasharray="1.1 1"/>
<line x1="291.5" x2="505.7" y1="383.14" y2="383.14" stroke="#e8e8e8" stroke-width="1" stroke-dasharray="1.1 1"/>
<line x1="291.5" x2="505.7" y1="527.2" y2="527.2" stroke="#d8d8d8" stroke-width="1" stroke-dasharray="1.1 1"/>
<line x1="291.5" x2="505.7" y1="486.04" y2="486.04" stroke="#d8d8d8" stroke-width="1" stroke-dasharray="1.1 1"/>
<line x1="291.5" x2="505.7" y1="444.88" y2="444.88" stroke="#d8d8d8" stroke-width="1" stroke-dasharray="1.1 1"/>
<line x1="291.5" x2="505.7" y1="403.72" y2="403.72" stroke="#d8d8d8" stroke-width="1" stroke-dasharray="1.1 1"/>
<line x1="291.5" x2="505.7" y1="362.56" y2="362.56" stroke="#d8d8d8" stroke-width="1" stroke-dasharray="1.1 1"/>
<line x1="302" x2="302" y1="354.2" y2="534.6" stroke="#e2e2e2" stroke-width="1" stroke-dasharray="1.1 1"/>
<line x1="319.5" x2="319.5" y1="354.2" y2="534.6" stroke="#e2e2e2" stroke-width="1" stroke-dasharray="1.1 1"/>
<line x1="337" x2="337" y1="354.2" y2="534.6" stroke="#e2e2e2" stroke-width="1" stroke-dasharray="1.1 1"/>
<line x1="354.5" x2="354.5" y1="354.2" y2="534.6" stroke="#e2e2e2" stroke-width="1" stroke-dasharray="1.1 1"/>
<line x1="372" x2="372" y1="354.2" y2="534.6" stroke="#e2e2e2" stroke-width="1" stroke-dasharray="1.1 1"/>
<line x1="389.5" x2="389.5" y1="354.2" y2="534.6" stroke="#e2e2e2" stroke-width="1" stroke-dasharray="1.1 1"/>
<line x1="407" x2="407" y1="354.2" y2="534.6" stroke="#e2e2e2" stroke-width="1" stroke-dasharray="1.1 1"/>
<line x1="424.5" x2="424.5" y1="354.2" y2="534.6" stroke="#e2e2e2" stroke-width="1" stroke-dasharray="1.1 1"/>
<line x1="442" x2="442" y1="354.2" y2="534.6" stroke="#e2e2e2" stroke-width="1" stroke-dasharray="1.1 1"/>
<line x1="459.5" x2="459.5" y1="354.2" y2="534.6" stroke="#e2e2e2" stroke-width="1" stroke-dasharray="1.1 1"/>
<line x1="477" x2="477" y1="354.2" y2="534.6" stroke="#e2e2e2" stroke-width="1" stroke-dasharray="1.1 1"/>
<line x1="494.5" x2="494.5" y1="354.2" y2="534.6" stroke="#e2e2e2" stroke-width="1" stroke-dasharray="1.1 1"/>
<rect x="293.9" y="361.53" width="16.2" height="165.67" fill="#ee9900"/>
<rect x="311.4" y="502.5" width="16.2" height="24.7" fill="#0b56f0"/>
<rect x="328.9" y="452.7" width="16.2" height="74.5" fill="#08e630"/>
<rect x="346.4" y="448.38" width="16.2" height="78.82" fill="#e60ad0"/>
<rect x="363.9" y="490.98" width="16.2" height="36.22" fill="#3eaa28"/>
<rect x="381.4" y="516.5" width="16.2" height="10.7" fill="#ee9900"/>
<rect x="398.9" y="524.42" width="16.2" height="2.78" fill="#f0607a"/>
<rect x="416.4" y="526" width="16.2" height="1.2" fill="#20bcd0"/>
<rect x="451.4" y="525.55" width="16.2" height="1.65" fill="#e060f0"/>
<rect x="486.4" y="484.19" width="16.2" height="43.01" fill="#d9d9d9"/>
<rect x="291.5" y="354.2" width="214.2" height="180.4" fill="none" stroke="#7a7a7a" stroke-width="1.2"/>
<line x1="288" x2="291.5" y1="527.2" y2="527.2" stroke="#333" stroke-width="1"/>
<text x="289.3" y="530.1" font-size="8.2" text-anchor="end" class="m">0</text>
<line x1="288" x2="291.5" y1="486.04" y2="486.04" stroke="#333" stroke-width="1"/>
<text x="289.3" y="488.94" font-size="8.2" text-anchor="end" class="m">20</text>
<line x1="288" x2="291.5" y1="444.88" y2="444.88" stroke="#333" stroke-width="1"/>
<text x="289.3" y="447.78" font-size="8.2" text-anchor="end" class="m">40</text>
<line x1="288" x2="291.5" y1="403.72" y2="403.72" stroke="#333" stroke-width="1"/>
<text x="289.3" y="406.62" font-size="8.2" text-anchor="end" class="m">60</text>
<line x1="288" x2="291.5" y1="362.56" y2="362.56" stroke="#333" stroke-width="1"/>
<text x="289.3" y="365.46" font-size="8.2" text-anchor="end" class="m">80</text>
<line x1="302" x2="302" y1="534.6" y2="537.6" stroke="#333" stroke-width="1"/>
<line x1="319.5" x2="319.5" y1="534.6" y2="537.6" stroke="#333" stroke-width="1"/>
<line x1="337" x2="337" y1="534.6" y2="537.6" stroke="#333" stroke-width="1"/>
<line x1="354.5" x2="354.5" y1="534.6" y2="537.6" stroke="#333" stroke-width="1"/>
<line x1="372" x2="372" y1="534.6" y2="537.6" stroke="#333" stroke-width="1"/>
<line x1="389.5" x2="389.5" y1="534.6" y2="537.6" stroke="#333" stroke-width="1"/>
<line x1="407" x2="407" y1="534.6" y2="537.6" stroke="#333" stroke-width="1"/>
<line x1="424.5" x2="424.5" y1="534.6" y2="537.6" stroke="#333" stroke-width="1"/>
<line x1="442" x2="442" y1="534.6" y2="537.6" stroke="#333" stroke-width="1"/>
<line x1="459.5" x2="459.5" y1="534.6" y2="537.6" stroke="#333" stroke-width="1"/>
<line x1="477" x2="477" y1="534.6" y2="537.6" stroke="#333" stroke-width="1"/>
<line x1="494.5" x2="494.5" y1="534.6" y2="537.6" stroke="#333" stroke-width="1"/>
<text x="311.4" y="542.8" font-size="10.0" text-anchor="end" textLength="68.54" lengthAdjust="spacingAndGlyphs" class="lab" transform="rotate(-34 311.4 542.8)">Blood / Individual</text>
<text x="328.48" y="542.8" font-size="10.0" text-anchor="end" textLength="63.03" lengthAdjust="spacingAndGlyphs" class="lab" transform="rotate(-34 328.48 542.8)">Skin / Individual</text>
<text x="348.62" y="542.8" font-size="10.0" text-anchor="end" textLength="97.56" lengthAdjust="spacingAndGlyphs" class="lab" transform="rotate(-34 348.62 542.8)">Blood Vessel / Individual</text>
<text x="366.81" y="542.8" font-size="10.0" text-anchor="end" textLength="106.56" lengthAdjust="spacingAndGlyphs" class="lab" transform="rotate(-34 366.81 542.8)">Adipose Tissue / Individual</text>
<text x="380.36" y="542.8" font-size="10.0" text-anchor="end" textLength="55.01" lengthAdjust="spacingAndGlyphs" class="lab" transform="rotate(-34 380.36 542.8)">Ischemic time</text>
<text x="398.86" y="542.8" font-size="10.0" text-anchor="end" textLength="68.04" lengthAdjust="spacingAndGlyphs" class="lab" transform="rotate(-34 398.86 542.8)">expression batch</text>
<text x="417.17" y="542.8" font-size="10.0" text-anchor="end" textLength="78.54" lengthAdjust="spacingAndGlyphs" class="lab" transform="rotate(-34 417.17 542.8)">RNA isolation batch</text>
<text x="429.84" y="542.8" font-size="10.0" text-anchor="end" textLength="15.5" lengthAdjust="spacingAndGlyphs" class="lab" transform="rotate(-34 429.84 542.8)">RIN</text>
<text x="447.3" y="542.8" font-size="10.0" text-anchor="end" textLength="15.01" lengthAdjust="spacingAndGlyphs" class="lab" transform="rotate(-34 447.3 542.8)">age</text>
<text x="464.72" y="542.8" font-size="10.0" text-anchor="end" textLength="14" lengthAdjust="spacingAndGlyphs" class="lab" transform="rotate(-34 464.72 542.8)">sex</text>
<text x="486.13" y="542.8" font-size="10.0" text-anchor="end" textLength="65.03" lengthAdjust="spacingAndGlyphs" class="lab" transform="rotate(-34 486.13 542.8)">collection center</text>
<text x="501.68" y="542.8" font-size="10.0" text-anchor="end" textLength="39.52" lengthAdjust="spacingAndGlyphs" class="lab" transform="rotate(-34 501.68 542.8)">Residuals</text>
<text x="276.5" y="444" font-size="10.6" text-anchor="middle" class="m" transform="rotate(-90 276.5 444)">Variance explained (%)</text>
<text x="397" y="350.8" font-size="10.8" text-anchor="middle" class="lab">GLMP</text>
<text x="267.3" y="353.3" font-size="17" class="big">d</text>
<rect x="546.1" y="368.8" width="111.7" height="206.2" fill="#fff" stroke="#7a7a7a" stroke-width="1.2"/>
<rect x="546.1" y="358" width="111.7" height="10.8" fill="#d0d0d0" stroke="#7a7a7a" stroke-width="1.2"/>
<text x="606.45" y="366.8" font-size="10.5" text-anchor="middle" class="m">Blood</text>
<line x1="567" x2="567" y1="565.78" y2="429.64" stroke="#f2b23a" stroke-width="1.5"/>
<rect x="554" y="487.1" width="26" height="39.34" fill="#ee9900"/>
<line x1="554" x2="580" y1="506.55" y2="506.55" stroke="#111" stroke-width="1.2"/>
<line x1="602" x2="602" y1="544.12" y2="424.34" stroke="#f2b23a" stroke-width="1.5"/>
<rect x="589" y="450.86" width="26" height="40.66" fill="#ee9900"/>
<line x1="589" x2="615" y1="473.4" y2="473.4" stroke="#111" stroke-width="1.2"/>
<line x1="637" x2="637" y1="539.26" y2="377.49" stroke="#f2b23a" stroke-width="1.5"/>
<rect x="624" y="430.09" width="26" height="45.53" fill="#ee9900"/>
<line x1="624" x2="650" y1="441.14" y2="441.14" stroke="#111" stroke-width="1.2"/>
<rect x="660.3" y="368.8" width="112.2" height="206.2" fill="#fff" stroke="#7a7a7a" stroke-width="1.2"/>
<rect x="660.3" y="358" width="112.2" height="10.8" fill="#d0d0d0" stroke="#7a7a7a" stroke-width="1.2"/>
<text x="719.4" y="366.8" font-size="10.5" text-anchor="middle" class="m">Skin</text>
<line x1="681.7" x2="681.7" y1="543.24" y2="418.15" stroke="#0a57f2" stroke-width="1.5"/>
<rect x="668.7" y="446.88" width="26" height="68.95" fill="#0a57f2"/>
<line x1="668.7" x2="694.7" y1="488.43" y2="488.43" stroke="#111" stroke-width="1.2"/>
<line x1="716.5" x2="716.5" y1="562.24" y2="422.57" stroke="#0a57f2" stroke-width="1.5"/>
<rect x="703.5" y="445.56" width="26" height="68.51" fill="#0a57f2"/>
<line x1="703.5" x2="729.5" y1="481.36" y2="481.36" stroke="#111" stroke-width="1.2"/>
<line x1="751.2" x2="751.2" y1="535.28" y2="415.5" stroke="#0a57f2" stroke-width="1.5"/>
<rect x="738.2" y="443.35" width="26" height="64.53" fill="#0a57f2"/>
<line x1="738.2" x2="764.2" y1="475.17" y2="475.17" stroke="#111" stroke-width="1.2"/>
<rect x="640.8" y="376.8" width="2" height="2" fill="#111" class="nb"/>
<rect x="629.8" y="399.2" width="2" height="2" fill="#111" class="nb"/>
<rect x="635.8" y="402.1" width="2" height="2" fill="#111" class="nb"/>
<rect x="635.8" y="403.8" width="2" height="2" fill="#111" class="nb"/>
<rect x="638.9" y="405" width="2" height="2" fill="#111" class="nb"/>
<rect x="623.9" y="412.9" width="2" height="2" fill="#111" class="nb"/>
<rect x="630.8" y="428.6" width="2" height="2" fill="#111" class="nb"/>
<rect x="630" y="432" width="2" height="2" fill="#111" class="nb"/>
<rect x="645.6" y="430.6" width="2" height="2" fill="#111" class="nb"/>
<rect x="646.9" y="432.8" width="2" height="2" fill="#111" class="nb"/>
<rect x="645.2" y="438.6" width="2" height="2" fill="#111" class="nb"/>
<rect x="647.7" y="438.6" width="2" height="2" fill="#111" class="nb"/>
<rect x="632.8" y="441.6" width="2" height="2" fill="#111" class="nb"/>
<rect x="624.9" y="455.6" width="2" height="2" fill="#111" class="nb"/>
<rect x="643.9" y="453.2" width="2" height="2" fill="#111" class="nb"/>
<rect x="647.7" y="450.7" width="2" height="2" fill="#111" class="nb"/>
<rect x="600.5" y="423.2" width="2" height="2" fill="#111" class="nb"/>
<rect x="598.8" y="430.6" width="2" height="2" fill="#111" class="nb"/>
<rect x="604.1" y="432" width="2" height="2" fill="#111" class="nb"/>
<rect x="591.9" y="435.8" width="2" height="2" fill="#111" class="nb"/>
<rect x="595.5" y="436.4" width="2" height="2" fill="#111" class="nb"/>
<rect x="597.2" y="436.4" width="2" height="2" fill="#111" class="nb"/>
<rect x="603.3" y="441.9" width="2" height="2" fill="#111" class="nb"/>
<rect x="601" y="446" width="2" height="2" fill="#111" class="nb"/>
<rect x="612.9" y="444.7" width="2" height="2" fill="#111" class="nb"/>
<rect x="593.9" y="449.4" width="2" height="2" fill="#111" class="nb"/>
<rect x="599.7" y="448.9" width="2" height="2" fill="#111" class="nb"/>
<rect x="609.9" y="449.8" width="2" height="2" fill="#111" class="nb"/>
<rect x="613.4" y="449.8" width="2" height="2" fill="#111" class="nb"/>
<rect x="588.4" y="454.8" width="2" height="2" fill="#111" class="nb"/>
<rect x="589.7" y="452.7" width="2" height="2" fill="#111" class="nb"/>
<rect x="592.2" y="451.8" width="2" height="2" fill="#111" class="nb"/>
<rect x="602.2" y="456" width="2" height="2" fill="#111" class="nb"/>
<rect x="599.7" y="459.3" width="2" height="2" fill="#111" class="nb"/>
<rect x="604.6" y="461" width="2" height="2" fill="#111" class="nb"/>
<rect x="608.8" y="458.5" width="2" height="2" fill="#111" class="nb"/>
<rect x="610.5" y="459.8" width="2" height="2" fill="#111" class="nb"/>
<rect x="614.8" y="460.5" width="2" height="2" fill="#111" class="nb"/>
<rect x="595.5" y="468.4" width="2" height="2" fill="#111" class="nb"/>
<rect x="556.3" y="429.5" width="2" height="2" fill="#111" class="nb"/>
<rect x="563.7" y="436.6" width="2" height="2" fill="#111" class="nb"/>
<rect x="554.6" y="444" width="2" height="2" fill="#111" class="nb"/>
<rect x="552.5" y="464.8" width="2" height="2" fill="#111" class="nb"/>
<rect x="569" y="466.4" width="2" height="2" fill="#111" class="nb"/>
<rect x="569.6" y="466.2" width="2" height="2" fill="#111" class="nb"/>
<rect x="565.9" y="477.1" width="2" height="2" fill="#111" class="nb"/>
<rect x="559.2" y="482.8" width="2" height="2" fill="#111" class="nb"/>
<rect x="556.8" y="488.6" width="2" height="2" fill="#111" class="nb"/>
<rect x="570.5" y="485.9" width="2" height="2" fill="#111" class="nb"/>
<rect x="573.2" y="485.3" width="2" height="2" fill="#111" class="nb"/>
<rect x="578.7" y="487.7" width="2" height="2" fill="#111" class="nb"/>
<rect x="570.5" y="491.3" width="2" height="2" fill="#111" class="nb"/>
<rect x="559.2" y="496.2" width="2" height="2" fill="#111" class="nb"/>
<rect x="562.3" y="504.1" width="2" height="2" fill="#111" class="nb"/>
<rect x="569.6" y="507.7" width="2" height="2" fill="#111" class="nb"/>
<rect x="561" y="513.2" width="2" height="2" fill="#111" class="nb"/>
<rect x="556.8" y="515.9" width="2" height="2" fill="#111" class="nb"/>
<rect x="573.8" y="518.1" width="2" height="2" fill="#111" class="nb"/>
<rect x="579.2" y="518.3" width="2" height="2" fill="#111" class="nb"/>
<rect x="552.3" y="521.4" width="2" height="2" fill="#111" class="nb"/>
<rect x="552.3" y="525.9" width="2" height="2" fill="#111" class="nb"/>
<rect x="565" y="524.7" width="2" height="2" fill="#111" class="nb"/>
<rect x="578.7" y="527.8" width="2" height="2" fill="#111" class="nb"/>
<rect x="569.6" y="531.8" width="2" height="2" fill="#111" class="nb"/>
<rect x="572.7" y="531.9" width="2" height="2" fill="#111" class="nb"/>
<rect x="561.4" y="539" width="2" height="2" fill="#111" class="nb"/>
<rect x="568.3" y="538.7" width="2" height="2" fill="#111" class="nb"/>
<rect x="569.2" y="554.2" width="2" height="2" fill="#111" class="nb"/>
<rect x="570.5" y="564.5" width="2" height="2" fill="#111" class="nb"/>
<rect x="596" y="468.6" width="2" height="2" fill="#111" class="nb"/>
<rect x="591.4" y="473.1" width="2" height="2" fill="#111" class="nb"/>
<rect x="598.7" y="475.8" width="2" height="2" fill="#111" class="nb"/>
<rect x="602.4" y="472.2" width="2" height="2" fill="#111" class="nb"/>
<rect x="599.6" y="478.6" width="2" height="2" fill="#111" class="nb"/>
<rect x="591.4" y="481.3" width="2" height="2" fill="#111" class="nb"/>
<rect x="603.3" y="480.8" width="2" height="2" fill="#111" class="nb"/>
<rect x="607.8" y="480" width="2" height="2" fill="#111" class="nb"/>
<rect x="600.6" y="482.2" width="2" height="2" fill="#111" class="nb"/>
<rect x="608.8" y="483.7" width="2" height="2" fill="#111" class="nb"/>
<rect x="604.2" y="485.9" width="2" height="2" fill="#111" class="nb"/>
<rect x="605.1" y="488.6" width="2" height="2" fill="#111" class="nb"/>
<rect x="587.3" y="489.9" width="2" height="2" fill="#111" class="nb"/>
<rect x="599.3" y="489.9" width="2" height="2" fill="#111" class="nb"/>
<rect x="600.2" y="496.8" width="2" height="2" fill="#111" class="nb"/>
<rect x="606.9" y="496.8" width="2" height="2" fill="#111" class="nb"/>
<rect x="588.7" y="501.3" width="2" height="2" fill="#111" class="nb"/>
<rect x="609.1" y="507.2" width="2" height="2" fill="#111" class="nb"/>
<rect x="606.9" y="517.2" width="2" height="2" fill="#111" class="nb"/>
<rect x="614.2" y="517.9" width="2" height="2" fill="#111" class="nb"/>
<rect x="604.2" y="520.8" width="2" height="2" fill="#111" class="nb"/>
<rect x="612.4" y="521.9" width="2" height="2" fill="#111" class="nb"/>
<rect x="611.5" y="528.1" width="2" height="2" fill="#111" class="nb"/>
<rect x="593.3" y="531.4" width="2" height="2" fill="#111" class="nb"/>
<rect x="609.8" y="542.9" width="2" height="2" fill="#111" class="nb"/>
<rect x="605.1" y="556.9" width="2" height="2" fill="#111" class="nb"/>
<rect x="638.8" y="471.3" width="2" height="2" fill="#111" class="nb"/>
<rect x="644.3" y="468.9" width="2" height="2" fill="#111" class="nb"/>
<rect x="648.8" y="476.4" width="2" height="2" fill="#111" class="nb"/>
<rect x="647" y="481.3" width="2" height="2" fill="#111" class="nb"/>
<rect x="626.1" y="495" width="2" height="2" fill="#111" class="nb"/>
<rect x="641.9" y="514.1" width="2" height="2" fill="#111" class="nb"/>
<rect x="628.4" y="517.7" width="2" height="2" fill="#111" class="nb"/>
<rect x="639.7" y="531.4" width="2" height="2" fill="#111" class="nb"/>
<rect x="644.8" y="538.1" width="2" height="2" fill="#111" class="nb"/>
<rect x="684.7" y="417" width="2" height="2" fill="#111" class="nb"/>
<rect x="688" y="421.2" width="2" height="2" fill="#111" class="nb"/>
<rect x="675.2" y="427" width="2" height="2" fill="#111" class="nb"/>
<rect x="667.3" y="431.1" width="2" height="2" fill="#111" class="nb"/>
<rect x="686.3" y="432.8" width="2" height="2" fill="#111" class="nb"/>
<rect x="689.3" y="431.1" width="2" height="2" fill="#111" class="nb"/>
<rect x="673.1" y="436.9" width="2" height="2" fill="#111" class="nb"/>
<rect x="689.6" y="436.6" width="2" height="2" fill="#111" class="nb"/>
<rect x="667.6" y="441.1" width="2" height="2" fill="#111" class="nb"/>
<rect x="674.7" y="441.1" width="2" height="2" fill="#111" class="nb"/>
<rect x="685" y="441.1" width="2" height="2" fill="#111" class="nb"/>
<rect x="669.8" y="448.5" width="2" height="2" fill="#111" class="nb"/>
<rect x="674.4" y="451.5" width="2" height="2" fill="#111" class="nb"/>
<rect x="678.4" y="454.8" width="2" height="2" fill="#111" class="nb"/>
<rect x="683.9" y="449.4" width="2" height="2" fill="#111" class="nb"/>
<rect x="693" y="449" width="2" height="2" fill="#111" class="nb"/>
<rect x="667.6" y="459.6" width="2" height="2" fill="#111" class="nb"/>
<rect x="670.6" y="465.6" width="2" height="2" fill="#111" class="nb"/>
<rect x="693.8" y="464.8" width="2" height="2" fill="#111" class="nb"/>
<rect x="704.6" y="421.2" width="2" height="2" fill="#111" class="nb"/>
<rect x="701.7" y="423.7" width="2" height="2" fill="#111" class="nb"/>
<rect x="726.1" y="428.1" width="2" height="2" fill="#111" class="nb"/>
<rect x="724.4" y="431.1" width="2" height="2" fill="#111" class="nb"/>
<rect x="709.9" y="432.8" width="2" height="2" fill="#111" class="nb"/>
<rect x="712.8" y="436.9" width="2" height="2" fill="#111" class="nb"/>
<rect x="716.2" y="435.3" width="2" height="2" fill="#111" class="nb"/>
<rect x="719.5" y="435.3" width="2" height="2" fill="#111" class="nb"/>
<rect x="704.6" y="439.9" width="2" height="2" fill="#111" class="nb"/>
<rect x="708.4" y="441.6" width="2" height="2" fill="#111" class="nb"/>
<rect x="713.7" y="438.6" width="2" height="2" fill="#111" class="nb"/>
<rect x="720.3" y="440.2" width="2" height="2" fill="#111" class="nb"/>
<rect x="719.5" y="443.6" width="2" height="2" fill="#111" class="nb"/>
<rect x="717.8" y="445.2" width="2" height="2" fill="#111" class="nb"/>
<rect x="702.4" y="446" width="2" height="2" fill="#111" class="nb"/>
<rect x="714.5" y="445.5" width="2" height="2" fill="#111" class="nb"/>
<rect x="722" y="446.9" width="2" height="2" fill="#111" class="nb"/>
<rect x="710.4" y="452.3" width="2" height="2" fill="#111" class="nb"/>
<rect x="720" y="451" width="2" height="2" fill="#111" class="nb"/>
<rect x="720.3" y="455.5" width="2" height="2" fill="#111" class="nb"/>
<rect x="723.1" y="463.1" width="2" height="2" fill="#111" class="nb"/>
<rect x="703.4" y="468.4" width="2" height="2" fill="#111" class="nb"/>
<rect x="743.8" y="414.2" width="2" height="2" fill="#111" class="nb"/>
<rect x="763.4" y="413.7" width="2" height="2" fill="#111" class="nb"/>
<rect x="763.4" y="418.7" width="2" height="2" fill="#111" class="nb"/>
<rect x="746.8" y="422.8" width="2" height="2" fill="#111" class="nb"/>
<rect x="739.7" y="429.8" width="2" height="2" fill="#111" class="nb"/>
<rect x="754.8" y="431.1" width="2" height="2" fill="#111" class="nb"/>
<rect x="751.8" y="438.2" width="2" height="2" fill="#111" class="nb"/>
<rect x="753.9" y="438.6" width="2" height="2" fill="#111" class="nb"/>
<rect x="743" y="441.9" width="2" height="2" fill="#111" class="nb"/>
<rect x="747.6" y="445.2" width="2" height="2" fill="#111" class="nb"/>
<rect x="745.5" y="451" width="2" height="2" fill="#111" class="nb"/>
<rect x="753.8" y="450.2" width="2" height="2" fill="#111" class="nb"/>
<rect x="760.4" y="452.7" width="2" height="2" fill="#111" class="nb"/>
<rect x="750.1" y="461" width="2" height="2" fill="#111" class="nb"/>
<rect x="758.4" y="463.8" width="2" height="2" fill="#111" class="nb"/>
<rect x="743.8" y="467.6" width="2" height="2" fill="#111" class="nb"/>
<rect x="670.3" y="465.8" width="2" height="2" fill="#111" class="nb"/>
<rect x="672.7" y="472.2" width="2" height="2" fill="#111" class="nb"/>
<rect x="689.1" y="470.4" width="2" height="2" fill="#111" class="nb"/>
<rect x="675.8" y="482.8" width="2" height="2" fill="#111" class="nb"/>
<rect x="688.1" y="492.6" width="2" height="2" fill="#111" class="nb"/>
<rect x="687.2" y="502.8" width="2" height="2" fill="#111" class="nb"/>
<rect x="691.4" y="502.8" width="2" height="2" fill="#111" class="nb"/>
<rect x="689.1" y="505" width="2" height="2" fill="#111" class="nb"/>
<rect x="669.6" y="506.8" width="2" height="2" fill="#111" class="nb"/>
<rect x="677.2" y="509" width="2" height="2" fill="#111" class="nb"/>
<rect x="686.3" y="511.4" width="2" height="2" fill="#111" class="nb"/>
<rect x="668.1" y="510.4" width="2" height="2" fill="#111" class="nb"/>
<rect x="670.8" y="516.3" width="2" height="2" fill="#111" class="nb"/>
<rect x="691.4" y="514.6" width="2" height="2" fill="#111" class="nb"/>
<rect x="690.3" y="518.1" width="2" height="2" fill="#111" class="nb"/>
<rect x="672.7" y="522.7" width="2" height="2" fill="#111" class="nb"/>
<rect x="676.9" y="522.3" width="2" height="2" fill="#111" class="nb"/>
<rect x="683.6" y="520.5" width="2" height="2" fill="#111" class="nb"/>
<rect x="684.5" y="522.8" width="2" height="2" fill="#111" class="nb"/>
<rect x="673.9" y="529.6" width="2" height="2" fill="#111" class="nb"/>
<rect x="689.6" y="532.9" width="2" height="2" fill="#111" class="nb"/>
<rect x="688.5" y="538.7" width="2" height="2" fill="#111" class="nb"/>
<rect x="687.2" y="542" width="2" height="2" fill="#111" class="nb"/>
<rect x="703.6" y="468.6" width="2" height="2" fill="#111" class="nb"/>
<rect x="709.1" y="475.8" width="2" height="2" fill="#111" class="nb"/>
<rect x="717.7" y="470.9" width="2" height="2" fill="#111" class="nb"/>
<rect x="716.4" y="474.9" width="2" height="2" fill="#111" class="nb"/>
<rect x="706" y="478.6" width="2" height="2" fill="#111" class="nb"/>
<rect x="711.8" y="482.2" width="2" height="2" fill="#111" class="nb"/>
<rect x="721.8" y="479.5" width="2" height="2" fill="#111" class="nb"/>
<rect x="705.4" y="485.9" width="2" height="2" fill="#111" class="nb"/>
<rect x="718.2" y="489.5" width="2" height="2" fill="#111" class="nb"/>
<rect x="706.7" y="497.3" width="2" height="2" fill="#111" class="nb"/>
<rect x="711.8" y="498.6" width="2" height="2" fill="#111" class="nb"/>
<rect x="727.3" y="501.9" width="2" height="2" fill="#111" class="nb"/>
<rect x="718.2" y="505.9" width="2" height="2" fill="#111" class="nb"/>
<rect x="723.7" y="505" width="2" height="2" fill="#111" class="nb"/>
<rect x="703.6" y="509.2" width="2" height="2" fill="#111" class="nb"/>
<rect x="709.6" y="510.1" width="2" height="2" fill="#111" class="nb"/>
<rect x="724.6" y="509.5" width="2" height="2" fill="#111" class="nb"/>
<rect x="727.3" y="511" width="2" height="2" fill="#111" class="nb"/>
<rect x="729.1" y="513.2" width="2" height="2" fill="#111" class="nb"/>
<rect x="702.7" y="514.6" width="2" height="2" fill="#111" class="nb"/>
<rect x="708.2" y="515" width="2" height="2" fill="#111" class="nb"/>
<rect x="721.8" y="515.4" width="2" height="2" fill="#111" class="nb"/>
<rect x="713.6" y="523.6" width="2" height="2" fill="#111" class="nb"/>
<rect x="724.6" y="526.5" width="2" height="2" fill="#111" class="nb"/>
<rect x="720" y="528.7" width="2" height="2" fill="#111" class="nb"/>
<rect x="717.7" y="532.3" width="2" height="2" fill="#111" class="nb"/>
<rect x="716.9" y="531.4" width="2" height="2" fill="#111" class="nb"/>
<rect x="709.6" y="528.7" width="2" height="2" fill="#111" class="nb"/>
<rect x="706.4" y="532.9" width="2" height="2" fill="#111" class="nb"/>
<rect x="706" y="534.7" width="2" height="2" fill="#111" class="nb"/>
<rect x="711.8" y="536.9" width="2" height="2" fill="#111" class="nb"/>
<rect x="719.1" y="539.6" width="2" height="2" fill="#111" class="nb"/>
<rect x="722.8" y="560.9" width="2" height="2" fill="#111" class="nb"/>
<rect x="743.7" y="467.6" width="2" height="2" fill="#111" class="nb"/>
<rect x="758.3" y="464.9" width="2" height="2" fill="#111" class="nb"/>
<rect x="738.2" y="472.2" width="2" height="2" fill="#111" class="nb"/>
<rect x="752.8" y="473.1" width="2" height="2" fill="#111" class="nb"/>
<rect x="751" y="475.8" width="2" height="2" fill="#111" class="nb"/>
<rect x="761.9" y="474.9" width="2" height="2" fill="#111" class="nb"/>
<rect x="749.2" y="495.9" width="2" height="2" fill="#111" class="nb"/>
<rect x="755.2" y="495.9" width="2" height="2" fill="#111" class="nb"/>
<rect x="758.3" y="498.2" width="2" height="2" fill="#111" class="nb"/>
<rect x="740.1" y="500.4" width="2" height="2" fill="#111" class="nb"/>
<rect x="739.1" y="502.8" width="2" height="2" fill="#111" class="nb"/>
<rect x="742.4" y="504.4" width="2" height="2" fill="#111" class="nb"/>
<rect x="761" y="501.9" width="2" height="2" fill="#111" class="nb"/>
<rect x="737" y="507.4" width="2" height="2" fill="#111" class="nb"/>
<rect x="751" y="507.2" width="2" height="2" fill="#111" class="nb"/>
<rect x="737" y="511.7" width="2" height="2" fill="#111" class="nb"/>
<rect x="755" y="511.7" width="2" height="2" fill="#111" class="nb"/>
<rect x="762.8" y="512.8" width="2" height="2" fill="#111" class="nb"/>
<rect x="763.7" y="519.6" width="2" height="2" fill="#111" class="nb"/>
<rect x="749.2" y="518.3" width="2" height="2" fill="#111" class="nb"/>
<rect x="744.2" y="522.3" width="2" height="2" fill="#111" class="nb"/>
<rect x="745.5" y="531" width="2" height="2" fill="#111" class="nb"/>
<rect x="744.6" y="533.8" width="2" height="2" fill="#111" class="nb"/>
<line x1="543.2" x2="546.1" y1="570.2" y2="570.2" stroke="#333" stroke-width="1"/>
<text x="541.8" y="573.1" font-size="8.2" text-anchor="end" class="m">3</text>
<line x1="543.2" x2="546.1" y1="526" y2="526" stroke="#333" stroke-width="1"/>
<text x="541.8" y="528.9" font-size="8.2" text-anchor="end" class="m">4</text>
<line x1="543.2" x2="546.1" y1="481.8" y2="481.8" stroke="#333" stroke-width="1"/>
<text x="541.8" y="484.7" font-size="8.2" text-anchor="end" class="m">5</text>
<line x1="543.2" x2="546.1" y1="437.6" y2="437.6" stroke="#333" stroke-width="1"/>
<text x="541.8" y="440.5" font-size="8.2" text-anchor="end" class="m">6</text>
<line x1="543.2" x2="546.1" y1="393.4" y2="393.4" stroke="#333" stroke-width="1"/>
<text x="541.8" y="396.3" font-size="8.2" text-anchor="end" class="m">7</text>
<line x1="567" x2="567" y1="575" y2="578" stroke="#333" stroke-width="1"/>
<text x="567" y="585.5" font-size="7.5" text-anchor="middle" font-weight="bold">CC</text>
<line x1="602" x2="602" y1="575" y2="578" stroke="#333" stroke-width="1"/>
<text x="602" y="585.5" font-size="7.5" text-anchor="middle" font-weight="bold">TC</text>
<line x1="637" x2="637" y1="575" y2="578" stroke="#333" stroke-width="1"/>
<text x="637" y="585.5" font-size="7.5" text-anchor="middle" font-weight="bold">TT</text>
<line x1="681.7" x2="681.7" y1="575" y2="578" stroke="#333" stroke-width="1"/>
<text x="681.7" y="585.5" font-size="7.5" text-anchor="middle" font-weight="bold">CC</text>
<line x1="716.5" x2="716.5" y1="575" y2="578" stroke="#333" stroke-width="1"/>
<text x="716.5" y="585.5" font-size="7.5" text-anchor="middle" font-weight="bold">TC</text>
<line x1="751.2" x2="751.2" y1="575" y2="578" stroke="#333" stroke-width="1"/>
<text x="751.2" y="585.5" font-size="7.5" text-anchor="middle" font-weight="bold">TT</text>
<text x="663" y="598.5" font-size="10.5" text-anchor="middle" class="m">rs2296374</text>
<text x="532" y="468" font-size="10.4" text-anchor="middle" class="m" transform="rotate(-90 532 468)">Expression (log<tspan font-size="7" dy="2">2</tspan><tspan dy="-2"> cpm)</tspan></text>
<text x="659.5" y="352.7" font-size="10.8" text-anchor="middle" class="lab">GLMP</text>
<text x="539.8" y="353.5" font-size="18" class="big">e</text>
</svg></body></html>
